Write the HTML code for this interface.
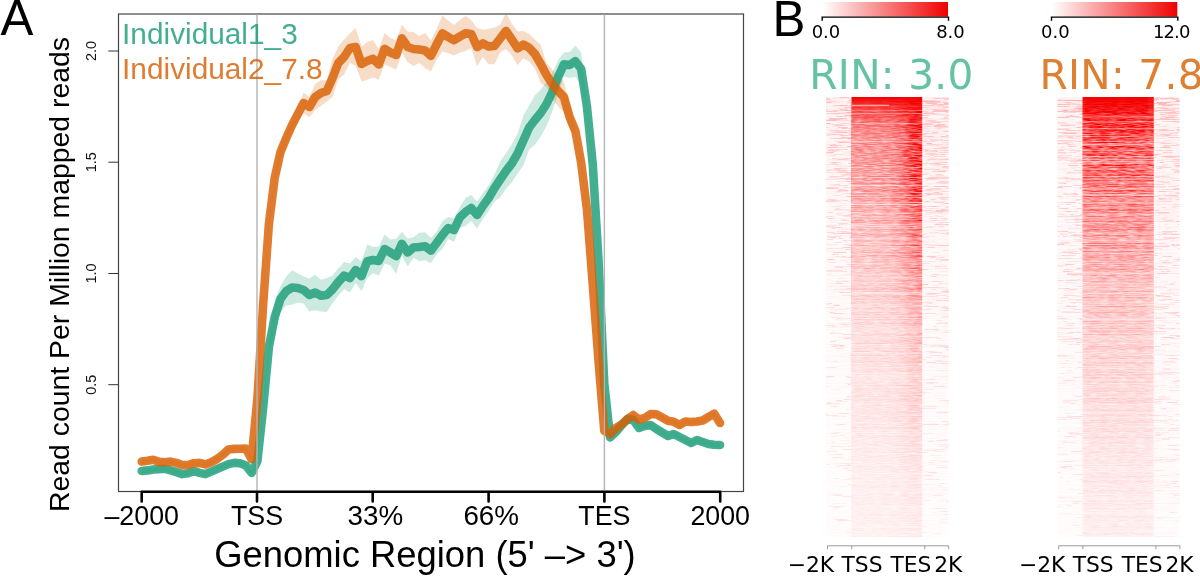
<!DOCTYPE html>
<html lang="en"><head><meta charset="utf-8"><title>RNA degradation coverage</title>
<style>html,body{margin:0;padding:0;background:#fff}body{width:1200px;height:576px;overflow:hidden}svg{display:block}</style></head>
<body>
<svg width="1200" height="576" viewBox="0 0 1200 576">
<defs><linearGradient id="cb" x1="0" x2="1" y1="0" y2="0"><stop offset="0" stop-color="#fff"/><stop offset="1" stop-color="#f00000"/></linearGradient><filter id="soft" x="-2%" y="-1%" width="104%" height="102%"><feGaussianBlur stdDeviation="0.7 0.3"/></filter></defs>
<rect width="1200" height="576" fill="#fff"/>
<text x="0.6" y="35" style="font-family:'Liberation Sans',sans-serif;font-size:49.3px" fill="#000">A</text>
<text x="772.6" y="35.6" style="font-family:'Liberation Sans',sans-serif;font-size:49.3px" fill="#000">B</text>
<rect x="118.5" y="14" width="625" height="477.5" fill="none" stroke="#444" stroke-width="1.2"/>
<polygon points="141.7,468.5 147.5,467.9 153.3,467.0 159.0,466.6 164.8,466.2 170.6,467.9 176.4,469.8 182.2,471.6 188.0,470.8 193.7,468.5 199.5,470.4 205.3,471.6 211.1,469.1 216.9,466.6 222.7,464.1 228.4,461.6 234.2,460.4 240.0,460.8 245.8,462.9 251.6,470.4 257.4,455.1 263.1,403.2 268.9,341.9 274.7,300.3 280.5,286.0 286.3,276.4 292.1,270.2 297.8,273.5 303.6,276.5 309.4,278.4 315.2,274.8 321.0,279.8 326.8,278.1 332.5,275.5 338.3,268.2 344.1,262.0 349.9,263.5 355.7,257.0 361.5,261.6 367.2,244.5 373.0,246.7 378.8,246.5 384.6,234.6 390.4,239.5 396.2,238.7 401.9,231.6 407.7,238.5 413.5,237.3 419.3,232.8 425.1,232.3 430.9,237.9 436.6,231.5 442.4,221.3 448.2,217.0 454.0,218.3 459.8,207.1 465.5,197.9 471.3,194.9 477.1,201.5 482.9,193.1 488.7,185.2 494.5,174.5 500.2,161.6 506.0,153.3 511.8,144.6 517.6,133.4 523.4,115.5 529.2,105.4 534.9,95.3 540.7,89.6 546.5,81.7 552.3,72.8 558.1,60.3 563.9,52.4 569.6,51.9 575.4,45.6 581.2,52.8 587.0,103.9 592.8,162.1 598.6,259.4 604.3,380.9 610.1,435.0 615.9,429.5 621.7,422.5 627.5,416.5 633.3,417.5 639.0,425.5 644.8,423.5 650.6,422.5 656.4,426.5 662.2,430.0 668.0,433.5 673.7,431.5 679.5,434.5 685.3,437.5 691.1,440.5 696.9,437.5 702.7,439.5 708.4,441.5 714.2,442.2 720.0,442.5 720.0,447.5 714.2,447.2 708.4,446.5 702.7,444.5 696.9,442.5 691.1,445.5 685.3,442.5 679.5,439.5 673.7,436.5 668.0,438.5 662.2,435.0 656.4,431.5 650.6,427.5 644.8,428.5 639.0,430.5 633.3,422.5 627.5,421.5 621.7,427.5 615.9,434.5 610.1,440.0 604.3,387.1 598.6,264.6 592.8,167.9 587.0,110.1 581.2,85.2 575.4,76.9 569.6,78.1 563.9,76.4 558.1,93.7 552.3,111.2 546.5,126.3 540.7,136.4 534.9,144.7 529.2,149.6 523.4,165.5 517.6,173.6 511.8,182.4 506.0,188.7 500.2,197.4 494.5,201.5 488.7,210.8 482.9,218.9 477.1,228.5 471.3,221.1 465.5,226.1 459.8,227.9 454.0,241.7 448.2,239.0 442.4,248.7 436.6,254.5 430.9,263.3 425.1,260.2 419.3,261.2 413.5,257.7 407.7,266.5 401.9,255.9 396.2,273.8 390.4,265.5 384.6,263.4 378.8,275.5 373.0,273.3 367.2,278.0 361.5,290.9 355.7,283.0 349.9,292.5 344.1,289.2 338.3,295.8 332.5,303.3 326.8,311.9 321.0,311.4 315.2,310.2 309.4,311.6 303.6,303.5 297.8,302.5 292.1,304.8 286.3,305.6 280.5,312.0 274.7,333.7 268.9,352.1 263.1,412.8 257.4,466.9 251.6,475.4 245.8,467.9 240.0,465.8 234.2,465.4 228.4,466.6 222.7,469.1 216.9,471.6 211.1,474.1 205.3,476.6 199.5,475.4 193.7,473.5 188.0,475.8 182.2,476.6 176.4,474.8 170.6,472.9 164.8,471.2 159.0,471.6 153.3,472.0 147.5,472.9 141.7,473.5" fill="#1B9E77" fill-opacity="0.22"/>
<polygon points="141.7,459.1 147.5,458.2 153.3,457.2 159.0,459.4 164.8,459.8 170.6,459.1 176.4,460.4 182.2,462.5 188.0,462.5 193.7,460.8 199.5,460.4 205.3,461.9 211.1,459.8 216.9,456.6 222.7,452.2 228.4,447.0 234.2,446.4 240.0,446.2 245.8,446.0 251.6,456.6 257.4,394.5 263.1,301.4 268.9,219.5 274.7,174.4 280.5,144.5 286.3,131.7 292.1,119.0 297.8,105.9 303.6,92.8 309.4,96.8 315.2,83.9 321.0,80.3 326.8,80.5 332.5,59.0 338.3,46.4 344.1,39.6 349.9,33.3 355.7,28.1 361.5,46.5 367.2,42.0 373.0,40.1 378.8,49.1 384.6,33.1 390.4,38.0 396.2,40.6 401.9,24.4 407.7,31.7 413.5,32.0 419.3,35.9 425.1,33.1 430.9,40.4 436.6,29.2 442.4,15.2 448.2,20.7 454.0,24.9 459.8,20.2 465.5,15.9 471.3,20.1 477.1,28.0 482.9,29.7 488.7,28.7 494.5,27.6 500.2,24.8 506.0,12.9 511.8,23.8 517.6,31.6 523.4,30.9 529.2,33.9 534.9,39.4 540.7,45.1 546.5,63.1 552.3,69.5 558.1,75.7 563.9,81.7 569.6,104.4 575.4,128.1 581.2,159.9 587.0,206.6 592.8,282.3 598.6,358.7 604.3,427.6 610.1,431.5 615.9,425.5 621.7,422.0 627.5,416.5 633.3,412.5 639.0,417.0 644.8,415.5 650.6,411.5 656.4,411.8 662.2,415.0 668.0,418.3 673.7,419.2 679.5,422.5 685.3,419.0 691.1,419.5 696.9,419.0 702.7,418.0 708.4,414.5 714.2,411.2 720.0,420.5 720.0,425.5 714.2,416.2 708.4,419.5 702.7,423.0 696.9,424.0 691.1,424.5 685.3,424.0 679.5,427.5 673.7,424.2 668.0,423.3 662.2,420.0 656.4,416.8 650.6,416.5 644.8,420.5 639.0,422.0 633.3,417.5 627.5,421.5 621.7,427.0 615.9,430.5 610.1,436.5 604.3,434.4 598.6,365.3 592.8,287.7 587.0,213.4 581.2,166.1 575.4,133.9 569.6,129.6 563.9,112.3 558.1,106.3 552.3,98.5 546.5,86.9 540.7,82.9 534.9,68.6 529.2,61.6 523.4,58.3 517.6,65.2 511.8,55.2 506.0,48.9 500.2,52.2 494.5,64.2 488.7,64.3 482.9,57.1 477.1,66.2 471.3,47.9 465.5,50.9 459.8,52.8 454.0,55.6 448.2,53.3 442.4,51.6 436.6,59.8 430.9,71.4 425.1,67.9 419.3,63.1 413.5,66.0 407.7,62.3 401.9,52.4 396.2,69.4 390.4,67.0 384.6,64.4 378.8,79.7 373.0,77.4 367.2,80.0 361.5,81.5 355.7,65.9 349.9,62.7 344.1,74.4 338.3,79.6 332.5,97.0 326.8,101.5 321.0,105.7 315.2,110.1 309.4,117.2 303.6,113.2 297.8,122.1 292.1,131.0 286.3,144.3 280.5,159.5 274.7,181.6 268.9,228.5 263.1,308.6 257.4,403.5 251.6,461.6 245.8,451.0 240.0,451.2 234.2,451.4 228.4,452.0 222.7,457.2 216.9,461.6 211.1,464.8 205.3,466.9 199.5,465.4 193.7,465.8 188.0,467.5 182.2,467.5 176.4,465.4 170.6,464.1 164.8,464.8 159.0,464.4 153.3,462.2 147.5,463.2 141.7,464.1" fill="#D95F02" fill-opacity="0.22"/>
<polyline points="141.7,471.0 147.5,470.4 153.3,469.5 159.0,469.1 164.8,468.8 170.6,470.4 176.4,472.2 182.2,474.1 188.0,473.2 193.7,471.0 199.5,472.9 205.3,474.1 211.1,471.6 216.9,469.1 222.7,466.6 228.4,464.1 234.2,462.9 240.0,463.2 245.8,465.4 251.6,472.9 257.4,461.0 263.1,408.0 268.9,347.0 274.7,317.0 280.5,299.0 286.3,291.0 292.1,287.5 297.8,288.0 303.6,290.0 309.4,295.0 315.2,292.5 321.0,295.6 326.8,295.0 332.5,289.4 338.3,282.0 344.1,275.6 349.9,278.0 355.7,270.0 361.5,276.2 367.2,261.2 373.0,260.0 378.8,261.0 384.6,249.0 390.4,252.5 396.2,256.2 401.9,243.8 407.7,252.5 413.5,247.5 419.3,247.0 425.1,246.2 430.9,250.6 436.6,243.0 442.4,235.0 448.2,228.0 454.0,230.0 459.8,217.5 465.5,212.0 471.3,208.0 477.1,215.0 482.9,206.0 488.7,198.0 494.5,188.0 500.2,179.5 506.0,171.0 511.8,163.5 517.6,153.5 523.4,140.5 529.2,127.5 534.9,120.0 540.7,113.0 546.5,104.0 552.3,92.0 558.1,77.0 563.9,64.4 569.6,65.0 575.4,61.2 581.2,69.0 587.0,107.0 592.8,165.0 598.6,262.0 604.3,384.0 610.1,437.5 615.9,432.0 621.7,425.0 627.5,419.0 633.3,420.0 639.0,428.0 644.8,426.0 650.6,425.0 656.4,429.0 662.2,432.5 668.0,436.0 673.7,434.0 679.5,437.0 685.3,440.0 691.1,443.0 696.9,440.0 702.7,442.0 708.4,444.0 714.2,444.7 720.0,445.0" fill="none" stroke="#1B9E77" stroke-opacity="0.82" stroke-width="8.6" stroke-linejoin="round" stroke-linecap="round"/>
<polyline points="141.7,461.6 147.5,460.8 153.3,459.8 159.0,461.9 164.8,462.2 170.6,461.6 176.4,462.9 182.2,465.0 188.0,465.0 193.7,463.2 199.5,462.9 205.3,464.4 211.1,462.2 216.9,459.1 222.7,454.8 228.4,449.5 234.2,448.9 240.0,448.8 245.8,448.5 251.6,459.1 257.4,399.0 263.1,305.0 268.9,224.0 274.7,178.0 280.5,152.0 286.3,138.0 292.1,125.0 297.8,114.0 303.6,103.0 309.4,107.0 315.2,97.0 321.0,93.0 326.8,91.0 332.5,78.0 338.3,63.0 344.1,57.0 349.9,48.0 355.7,47.0 361.5,64.0 367.2,61.0 373.0,58.8 378.8,64.4 384.6,48.8 390.4,52.5 396.2,55.0 401.9,38.4 407.7,47.0 413.5,49.0 419.3,49.5 425.1,50.5 430.9,55.9 436.6,44.5 442.4,33.4 448.2,37.0 454.0,40.2 459.8,36.5 465.5,33.4 471.3,34.0 477.1,47.1 482.9,43.4 488.7,46.5 494.5,45.9 500.2,38.5 506.0,30.9 511.8,39.5 517.6,48.4 523.4,44.6 529.2,47.8 534.9,54.0 540.7,64.0 546.5,75.0 552.3,84.0 558.1,91.0 563.9,97.0 569.6,117.0 575.4,131.0 581.2,163.0 587.0,210.0 592.8,285.0 598.6,362.0 604.3,431.0 610.1,434.0 615.9,428.0 621.7,424.5 627.5,419.0 633.3,415.0 639.0,419.5 644.8,418.0 650.6,414.0 656.4,414.3 662.2,417.5 668.0,420.8 673.7,421.7 679.5,425.0 685.3,421.5 691.1,422.0 696.9,421.5 702.7,420.5 708.4,417.0 714.2,413.8 720.0,423.0" fill="none" stroke="#D95F02" stroke-opacity="0.82" stroke-width="8.6" stroke-linejoin="round" stroke-linecap="round"/>
<path d="M257 14.5V491M604.4 14.5V491" stroke="#b4b4b4" stroke-width="1.4" fill="none"/>
<text x="122.1" y="43.5" style="font-family:'Liberation Sans',sans-serif;font-size:29.8px" fill="#1B9E77" fill-opacity="0.82">Individual1_3</text>
<text x="122.1" y="78.6" style="font-family:'Liberation Sans',sans-serif;font-size:29.8px" fill="#D95F02" fill-opacity="0.82">Individual2_7.8</text>
<line x1="108.3" x2="118.5" y1="51.0" y2="51.0" stroke="#333" stroke-width="1"/>
<text transform="translate(96,51.0) rotate(-90)" text-anchor="middle" style="font-family:'Liberation Sans',sans-serif;font-size:14.5px" fill="#111">2.0</text>
<line x1="108.3" x2="118.5" y1="162.2" y2="162.2" stroke="#333" stroke-width="1"/>
<text transform="translate(96,162.2) rotate(-90)" text-anchor="middle" style="font-family:'Liberation Sans',sans-serif;font-size:14.5px" fill="#111">1.5</text>
<line x1="108.3" x2="118.5" y1="273.5" y2="273.5" stroke="#333" stroke-width="1"/>
<text transform="translate(96,273.5) rotate(-90)" text-anchor="middle" style="font-family:'Liberation Sans',sans-serif;font-size:14.5px" fill="#111">1.0</text>
<line x1="108.3" x2="118.5" y1="384.7" y2="384.7" stroke="#333" stroke-width="1"/>
<text transform="translate(96,384.7) rotate(-90)" text-anchor="middle" style="font-family:'Liberation Sans',sans-serif;font-size:14.5px" fill="#111">0.5</text>
<text transform="translate(68.7,274.5) rotate(-90)" text-anchor="middle" style="font-family:'Liberation Sans',sans-serif;font-size:28.4px" fill="#000">Read count Per Million mapped reads</text>
<path d="M141.7 501.5V491.7H720.2V501.5M257 491.7V501.5M372.7 491.7V501.5M488.6 491.7V501.5M604.4 491.7V501.5" fill="none" stroke="#000" stroke-width="2.6" stroke-linecap="round" stroke-linejoin="round"/>
<text x="141.7" y="524.6" text-anchor="middle" style="font-family:'Liberation Sans',sans-serif;font-size:26.8px" fill="#000">–2000</text>
<text x="257.0" y="524.6" text-anchor="middle" style="font-family:'Liberation Sans',sans-serif;font-size:26.8px" fill="#000">TSS</text>
<text x="375.3" y="524.6" text-anchor="middle" style="font-family:'Liberation Sans',sans-serif;font-size:27.8px" fill="#000">33%</text>
<text x="491.2" y="524.6" text-anchor="middle" style="font-family:'Liberation Sans',sans-serif;font-size:27.8px" fill="#000">66%</text>
<text x="604.4" y="524.6" text-anchor="middle" style="font-family:'Liberation Sans',sans-serif;font-size:26.8px" fill="#000">TES</text>
<text x="720.2" y="524.6" text-anchor="middle" style="font-family:'Liberation Sans',sans-serif;font-size:26.8px" fill="#000">2000</text>
<text x="425" y="567" text-anchor="middle" style="font-family:'Liberation Sans',sans-serif;font-size:36.4px" fill="#000">Genomic Region (5' –&gt; 3')</text>
<rect x="822.4" y="2" width="125.6" height="14.6" fill="url(#cb)"/>
<path d="M822.2 20.8V17.1H948.5V20.8" fill="none" stroke="#000" stroke-width="1.4"/>
<text x="826.0" y="37.8" text-anchor="middle" style="font-family:'DejaVu Sans','Liberation Sans',sans-serif;font-size:18px" fill="#000">0.0</text>
<text x="950.5" y="37.8" text-anchor="middle" style="font-family:'DejaVu Sans','Liberation Sans',sans-serif;font-size:18px" fill="#000">8.0</text>
<text x="809.3" y="89" style="font-family:'DejaVu Sans','Liberation Sans',sans-serif;font-size:40.6px;letter-spacing:0.35px" fill="#66C2A5">RIN: 3.0</text>
<rect x="1051.7" y="2" width="125.6" height="14.6" fill="url(#cb)"/>
<path d="M1051.5 20.8V17.1H1177.8V20.8" fill="none" stroke="#000" stroke-width="1.4"/>
<text x="1055.3" y="37.8" text-anchor="middle" style="font-family:'DejaVu Sans','Liberation Sans',sans-serif;font-size:18px" fill="#000">0.0</text>
<text x="1171.2" y="37.8" text-anchor="middle" style="font-family:'DejaVu Sans','Liberation Sans',sans-serif;font-size:18px;letter-spacing:-0.9px" fill="#000">12.0</text>
<text x="1039.4" y="89" style="font-family:'DejaVu Sans','Liberation Sans',sans-serif;font-size:40.6px;letter-spacing:0.35px" fill="#DD8033">RIN: 7.8</text>
<defs><linearGradient id="hp1" x1="0" x2="1" y1="0" y2="0"><stop offset="0.00" stop-color="#fff" stop-opacity="1.00"/><stop offset="0.30" stop-color="#fff" stop-opacity="0.98"/><stop offset="0.55" stop-color="#fff" stop-opacity="0.90"/><stop offset="0.72" stop-color="#fff" stop-opacity="0.62"/><stop offset="0.84" stop-color="#fff" stop-opacity="0.20"/><stop offset="0.92" stop-color="#fff" stop-opacity="0.00"/><stop offset="1.00" stop-color="#fff" stop-opacity="0.00"/></linearGradient><linearGradient id="hp1v" x1="0" x2="0" y1="0" y2="1"><stop offset="0.000" stop-color="#fff" stop-opacity="0.000"/><stop offset="0.030" stop-color="#fff" stop-opacity="0.220"/><stop offset="0.075" stop-color="#fff" stop-opacity="0.448"/><stop offset="0.143" stop-color="#fff" stop-opacity="0.500"/><stop offset="0.234" stop-color="#fff" stop-opacity="0.516"/><stop offset="0.290" stop-color="#fff" stop-opacity="0.528"/><stop offset="0.380" stop-color="#fff" stop-opacity="0.536"/><stop offset="0.530" stop-color="#fff" stop-opacity="0.479"/><stop offset="0.680" stop-color="#fff" stop-opacity="0.441"/><stop offset="0.860" stop-color="#fff" stop-opacity="0.337"/><stop offset="1.000" stop-color="#fff" stop-opacity="0.306"/></linearGradient><mask id="hp1m" maskUnits="userSpaceOnUse" x="851.5" y="97.0" width="70.7" height="440"><rect x="851.5" y="97.0" width="70.7" height="440" fill="url(#hp1v)"/></mask><filter id="hp1g" x="0" y="0" width="1" height="1" color-interpolation-filters="sRGB"><feTurbulence type="fractalNoise" baseFrequency="0.11 0.9" numOctaves="2" seed="11" result="n"/><feColorMatrix in="n" type="matrix" values="0 0 0 0 1 0 0 0 0 1 0 0 0 0 1 1.25 0 0 0 -0.40"/><feComposite operator="in" in2="SourceGraphic"/></filter><linearGradient id="hp1gv" x1="0" x2="0" y1="0" y2="1"><stop offset="0.000" stop-color="#fff" stop-opacity="0.000"/><stop offset="0.020" stop-color="#fff" stop-opacity="0.250"/><stop offset="0.050" stop-color="#fff" stop-opacity="0.700"/><stop offset="0.100" stop-color="#fff" stop-opacity="1.000"/><stop offset="1.000" stop-color="#fff" stop-opacity="1.000"/></linearGradient><mask id="hp1gm" maskUnits="userSpaceOnUse" x="826.0" y="97.0" width="122.5" height="440"><rect x="826.0" y="97.0" width="122.5" height="440" fill="url(#hp1gv)"/></mask></defs><g fill="none" stroke-width="1.1" filter="url(#soft)"><path stroke="#fffbfb" d="M922.2 215.5h26.3M826.0 240.5h25.5M826.0 249.5h25.5M826.0 252.5h25.5M922.2 252.5h26.3M826.0 254.5h25.5M922.2 257.5h26.3M826.0 263.5h25.5M826.0 264.5h25.5M826.0 266.5h25.5M922.2 273.5h26.3M826.0 277.5h25.5M826.0 279.5h25.5M826.0 281.5h25.5M826.0 292.5h25.5M826.0 294.5h25.5M826.0 300.5h25.5M826.0 302.5h25.5M826.0 310.5h25.5M826.0 312.5h25.5M922.2 312.5h26.3M922.2 314.5h26.3M826.0 315.5h25.5M826.0 317.5h25.5M922.2 317.5h26.3M826.0 318.5h25.5M826.0 319.5h25.5M826.0 321.5h25.5M922.2 321.5h26.3M826.0 322.5h25.5M922.2 322.5h26.3M826.0 324.5h25.5M922.2 324.5h26.3M826.0 325.5h25.5M922.2 325.5h26.3M922.2 327.5h26.3M826.0 328.5h25.5M922.2 329.5h26.3M826.0 330.5h25.5M826.0 331.5h25.5M826.0 333.5h25.5M826.0 334.5h25.5M922.2 334.5h26.3M826.0 335.5h25.5M826.0 337.5h25.5M922.2 337.5h26.3M826.0 338.5h25.5M826.0 339.5h25.5M922.2 339.5h26.3M826.0 340.5h25.5M826.0 341.5h25.5M922.2 341.5h26.3M826.0 343.5h25.5M826.0 345.5h25.5M922.2 345.5h26.3M826.0 346.5h25.5M826.0 348.5h25.5M922.2 348.5h26.3M826.0 349.5h25.5M922.2 349.5h26.3M922.2 350.5h26.3M826.0 352.5h25.5M826.0 353.5h25.5M826.0 354.5h25.5M922.2 355.5h26.3M826.0 358.5h25.5M922.2 358.5h26.3M826.0 362.5h25.5M922.2 362.5h26.3M826.0 363.5h25.5M826.0 364.5h25.5M826.0 366.5h25.5M826.0 367.5h25.5M922.2 368.5h26.3M826.0 369.5h25.5M826.0 371.5h25.5M826.0 372.5h25.5M922.2 372.5h26.3M826.0 373.5h25.5M922.2 374.5h26.3M922.2 376.5h26.3M826.0 377.5h25.5M922.2 377.5h26.3M826.0 378.5h25.5M826.0 379.5h25.5M826.0 381.5h25.5M922.2 381.5h26.3M826.0 384.5h25.5M826.0 386.5h25.5M922.2 386.5h26.3M826.0 387.5h25.5M826.0 389.5h25.5M922.2 389.5h26.3M922.2 390.5h26.3M826.0 391.5h25.5M922.2 391.5h26.3M826.0 392.5h25.5M826.0 394.5h25.5M922.2 394.5h26.3M826.0 395.5h25.5M922.2 395.5h26.3M826.0 396.5h25.5M826.0 397.5h25.5M922.2 397.5h26.3M826.0 399.5h25.5M922.2 399.5h26.3M826.0 400.5h25.5M826.0 401.5h25.5M826.0 402.5h25.5M826.0 403.5h25.5M922.2 403.5h26.3M826.0 404.5h25.5M922.2 404.5h26.3M826.0 405.5h25.5M826.0 406.5h25.5M826.0 407.5h25.5M826.0 408.5h25.5M826.0 409.5h25.5M922.2 409.5h26.3M826.0 410.5h25.5M922.2 410.5h26.3M826.0 411.5h25.5M826.0 412.5h25.5M826.0 414.5h25.5M922.2 414.5h26.3M826.0 416.5h25.5M826.0 417.5h25.5M922.2 417.5h26.3M826.0 418.5h25.5M826.0 419.5h25.5M922.2 419.5h26.3M826.0 420.5h25.5M922.2 420.5h26.3M826.0 421.5h25.5M922.2 422.5h26.3M826.0 423.5h25.5M922.2 423.5h26.3M826.0 424.5h25.5M922.2 425.5h26.3M826.0 426.5h25.5M826.0 427.5h25.5M922.2 427.5h26.3M826.0 428.5h25.5M826.0 429.5h25.5M826.0 430.5h25.5M922.2 430.5h26.3M826.0 431.5h25.5M922.2 431.5h26.3M922.2 432.5h26.3M826.0 433.5h25.5M922.2 433.5h26.3M826.0 435.5h25.5M922.2 435.5h26.3M826.0 436.5h25.5M922.2 436.5h26.3M826.0 437.5h25.5M922.2 437.5h26.3M826.0 438.5h25.5M922.2 438.5h26.3M826.0 439.5h25.5M922.2 439.5h26.3M826.0 440.5h25.5M826.0 441.5h25.5M826.0 442.5h25.5M922.2 442.5h26.3M922.2 443.5h26.3M826.0 444.5h25.5M922.2 444.5h26.3M826.0 445.5h25.5M922.2 445.5h26.3M826.0 446.5h25.5M922.2 446.5h26.3M826.0 447.5h25.5M922.2 447.5h26.3M826.0 448.5h25.5M922.2 448.5h26.3M826.0 449.5h25.5M826.0 450.5h25.5M922.2 450.5h26.3M826.0 451.5h25.5M922.2 451.5h26.3M826.0 452.5h25.5M922.2 452.5h26.3M826.0 453.5h25.5M922.2 453.5h26.3M826.0 454.5h25.5M826.0 455.5h25.5M922.2 455.5h26.3M826.0 456.5h25.5M922.2 456.5h26.3M826.0 457.5h25.5M922.2 457.5h26.3M826.0 458.5h25.5M922.2 458.5h26.3M826.0 459.5h25.5M922.2 459.5h26.3M826.0 460.5h25.5M922.2 460.5h26.3M826.0 461.5h25.5M922.2 461.5h26.3M826.0 462.5h25.5M922.2 462.5h26.3M826.0 464.5h25.5M922.2 464.5h26.3M826.0 465.5h25.5M826.0 466.5h25.5M922.2 466.5h26.3M922.2 467.5h26.3M826.0 468.5h25.5M922.2 468.5h26.3M826.0 469.5h25.5M922.2 469.5h26.3M826.0 470.5h25.5M922.2 470.5h26.3M826.0 471.5h25.5M922.2 471.5h26.3M826.0 472.5h25.5M922.2 472.5h26.3M826.0 473.5h25.5M826.0 474.5h25.5M826.0 475.5h25.5M922.2 475.5h26.3M826.0 476.5h25.5M826.0 477.5h25.5M922.2 477.5h26.3M826.0 478.5h25.5M922.2 478.5h26.3M826.0 479.5h25.5M826.0 480.5h25.5M922.2 480.5h26.3M826.0 481.5h25.5M922.2 481.5h26.3M826.0 482.5h25.5M922.2 482.5h26.3M826.0 483.5h25.5M922.2 483.5h26.3M826.0 484.5h25.5M922.2 484.5h26.3M826.0 485.5h25.5M922.2 485.5h26.3M826.0 486.5h25.5M922.2 486.5h26.3M826.0 487.5h25.5M826.0 488.5h25.5M826.0 489.5h25.5M826.0 490.5h25.5M826.0 491.5h25.5M922.2 491.5h26.3M826.0 492.5h25.5M922.2 492.5h26.3M826.0 493.5h25.5M826.0 494.5h25.5M826.0 495.5h25.5M922.2 495.5h26.3M826.0 496.5h25.5M922.2 496.5h26.3M826.0 497.5h25.5M922.2 497.5h26.3M826.0 498.5h25.5M922.2 498.5h26.3M826.0 499.5h25.5M922.2 499.5h26.3M826.0 500.5h25.5M922.2 500.5h26.3M826.0 501.5h25.5M922.2 501.5h26.3M826.0 502.5h25.5M922.2 502.5h26.3M826.0 503.5h25.5M922.2 503.5h26.3M826.0 504.5h25.5M922.2 504.5h26.3M826.0 505.5h25.5M922.2 505.5h26.3M826.0 506.5h25.5M922.2 506.5h26.3M826.0 507.5h25.5M922.2 507.5h26.3M826.0 508.5h25.5M922.2 508.5h26.3M826.0 509.5h25.5M922.2 509.5h26.3M826.0 510.5h25.5M922.2 510.5h26.3M826.0 511.5h25.5M922.2 511.5h26.3M826.0 512.5h25.5M922.2 512.5h26.3M826.0 513.5h25.5M922.2 513.5h26.3M826.0 514.5h25.5M922.2 514.5h26.3M826.0 515.5h25.5M922.2 515.5h26.3M826.0 516.5h25.5M922.2 516.5h26.3M826.0 517.5h25.5M922.2 517.5h26.3M826.0 518.5h25.5M922.2 518.5h26.3M826.0 519.5h25.5M922.2 519.5h26.3M826.0 520.5h25.5M826.0 521.5h25.5M922.2 521.5h26.3M826.0 522.5h25.5M922.2 522.5h26.3M826.0 523.5h25.5M922.2 523.5h26.3M826.0 524.5h25.5M826.0 525.5h25.5M922.2 525.5h26.3M826.0 526.5h25.5M922.2 526.5h26.3M826.0 527.5h25.5M922.2 527.5h26.3M826.0 528.5h25.5M922.2 528.5h26.3M826.0 529.5h25.5M922.2 529.5h26.3M826.0 530.5h25.5M922.2 530.5h26.3M826.0 531.5h25.5M922.2 531.5h26.3M826.0 532.5h25.5M922.2 532.5h26.3M826.0 533.5h25.5M922.2 533.5h26.3M826.0 534.5h25.5M922.2 534.5h26.3M826.0 535.5h25.5M922.2 535.5h26.3M826.0 536.5h25.5M922.2 536.5h26.3"/><path stroke="#fff7f7" d="M922.2 116.5h26.3M826.0 147.5h25.5M826.0 158.5h25.5M826.0 162.5h25.5M826.0 163.5h25.5M826.0 168.5h25.5M826.0 169.5h25.5M826.0 171.5h25.5M826.0 172.5h25.5M826.0 173.5h25.5M922.2 173.5h26.3M922.2 174.5h26.3M826.0 175.5h25.5M826.0 180.5h25.5M826.0 182.5h25.5M922.2 183.5h26.3M826.0 184.5h25.5M922.2 185.5h26.3M826.0 186.5h25.5M826.0 187.5h25.5M922.2 189.5h26.3M826.0 190.5h25.5M826.0 192.5h25.5M826.0 195.5h25.5M826.0 196.5h25.5M826.0 198.5h25.5M826.0 200.5h25.5M826.0 201.5h25.5M922.2 201.5h26.3M826.0 202.5h25.5M826.0 204.5h25.5M922.2 204.5h26.3M826.0 205.5h25.5M826.0 206.5h25.5M922.2 206.5h26.3M826.0 207.5h25.5M826.0 208.5h25.5M922.2 208.5h26.3M826.0 209.5h25.5M922.2 209.5h26.3M826.0 210.5h25.5M922.2 210.5h26.3M826.0 211.5h25.5M826.0 212.5h25.5M826.0 213.5h25.5M826.0 215.5h25.5M826.0 216.5h25.5M922.2 216.5h26.3M826.0 217.5h25.5M922.2 217.5h26.3M922.2 218.5h26.3M826.0 219.5h25.5M922.2 219.5h26.3M922.2 220.5h26.3M826.0 221.5h25.5M922.2 221.5h26.3M826.0 223.5h25.5M922.2 223.5h26.3M826.0 224.5h25.5M922.2 224.5h26.3M826.0 226.5h25.5M922.2 226.5h26.3M826.0 227.5h25.5M826.0 228.5h25.5M922.2 228.5h26.3M826.0 229.5h25.5M922.2 229.5h26.3M826.0 230.5h25.5M922.2 230.5h26.3M826.0 233.5h25.5M826.0 234.5h25.5M922.2 234.5h26.3M922.2 236.5h26.3M826.0 237.5h25.5M922.2 237.5h26.3M922.2 238.5h26.3M826.0 239.5h25.5M826.0 241.5h25.5M826.0 242.5h25.5M826.0 243.5h25.5M826.0 244.5h25.5M922.2 244.5h26.3M826.0 245.5h25.5M922.2 245.5h26.3M826.0 246.5h25.5M826.0 247.5h25.5M826.0 248.5h25.5M922.2 248.5h26.3M922.2 249.5h26.3M826.0 250.5h25.5M922.2 250.5h26.3M826.0 251.5h25.5M922.2 251.5h26.3M826.0 253.5h25.5M922.2 253.5h26.3M922.2 254.5h26.3M826.0 255.5h25.5M826.0 256.5h25.5M826.0 258.5h25.5M922.2 258.5h26.3M826.0 259.5h25.5M922.2 259.5h26.3M826.0 260.5h25.5M922.2 260.5h26.3M826.0 261.5h25.5M922.2 261.5h26.3M826.0 262.5h25.5M922.2 262.5h26.3M922.2 263.5h26.3M826.0 265.5h25.5M922.2 266.5h26.3M826.0 267.5h25.5M922.2 267.5h26.3M941.3 267.5h7.2M826.0 269.5h25.5M922.2 269.5h26.3M826.0 270.5h25.5M922.2 270.5h26.3M826.0 271.5h25.5M922.2 271.5h26.3M826.0 272.5h25.5M922.2 272.5h26.3M826.0 273.5h25.5M826.0 274.5h25.5M826.0 276.5h25.5M922.2 276.5h26.3M922.2 277.5h26.3M826.0 278.5h25.5M922.2 278.5h26.3M922.2 279.5h26.3M922.2 280.5h26.3M922.2 282.5h26.3M826.0 283.5h25.5M922.2 283.5h26.3M826.0 284.5h25.5M922.2 284.5h26.3M826.0 285.5h25.5M922.2 285.5h26.3M922.2 286.5h26.3M826.0 287.5h25.5M826.0 288.5h25.5M826.0 289.5h25.5M922.2 289.5h26.3M922.2 289.5h9.0M826.0 290.5h25.5M922.2 290.5h26.3M826.0 291.5h25.5M922.2 291.5h26.3M832.2 292.5h10.8M922.2 292.5h26.3M826.0 293.5h25.5M922.2 293.5h26.3M826.0 295.5h25.5M826.0 296.5h25.5M922.2 296.5h26.3M826.0 297.5h25.5M922.2 297.5h26.3M826.0 298.5h25.5M826.0 299.5h25.5M922.2 299.5h26.3M826.0 301.5h25.5M922.2 302.5h26.3M826.0 303.5h25.5M826.0 304.5h25.5M922.2 304.5h26.3M826.0 305.5h25.5M922.2 305.5h26.3M826.0 306.5h25.5M922.2 306.5h26.3M924.2 306.5h15.2M826.0 307.5h25.5M922.2 307.5h26.3M826.0 308.5h25.5M922.2 308.5h26.3M826.0 309.5h25.5M922.2 310.5h26.3M826.0 311.5h25.5M922.2 311.5h26.3M826.0 313.5h25.5M827.7 313.5h5.3M826.0 314.5h25.5M922.2 315.5h26.3M826.0 316.5h25.5M922.2 316.5h26.3M922.2 318.5h26.3M922.2 319.5h26.3M826.0 320.5h25.5M922.2 320.5h26.3M922.2 323.5h26.3M922.2 326.5h26.3M922.2 328.5h26.3M826.0 329.5h25.5M922.2 330.5h26.3M849.7 331.5h1.8M826.0 332.5h25.5M826.6 332.5h2.8M922.2 332.5h26.3M922.2 333.5h26.3M922.2 335.5h26.3M826.0 336.5h25.5M922.2 336.5h26.3M922.2 338.5h26.3M922.2 340.5h26.3M826.0 342.5h25.5M922.2 342.5h26.3M922.2 343.5h26.3M826.0 344.5h25.5M922.2 344.5h26.3M922.2 346.5h26.3M826.0 347.5h25.5M832.2 347.5h9.5M922.2 347.5h26.3M926.2 347.5h13.2M826.0 350.5h25.5M826.0 351.5h25.5M922.2 351.5h26.3M922.2 352.5h26.3M922.2 353.5h26.3M922.2 354.5h26.3M826.0 355.5h25.5M826.0 356.5h25.5M922.2 356.5h26.3M826.0 357.5h25.5M922.2 357.5h26.3M826.0 359.5h25.5M922.2 359.5h26.3M826.0 360.5h25.5M922.2 360.5h26.3M826.0 361.5h25.5M922.2 361.5h26.3M922.2 363.5h26.3M922.2 364.5h26.3M933.4 364.5h8.3M826.0 365.5h25.5M922.2 365.5h26.3M922.2 366.5h26.3M922.2 367.5h26.3M826.0 368.5h25.5M922.2 369.5h26.3M826.0 370.5h25.5M922.2 370.5h26.3M922.2 371.5h26.3M922.2 373.5h26.3M826.0 374.5h25.5M843.0 374.5h5.3M826.0 375.5h25.5M922.2 375.5h26.3M826.0 376.5h25.5M922.2 378.5h26.3M922.2 379.5h26.3M826.0 380.5h25.5M922.2 380.5h26.3M826.0 382.5h25.5M922.2 382.5h26.3M826.0 383.5h25.5M922.2 384.5h26.3M927.4 384.5h7.1M826.0 385.5h25.5M922.2 385.5h26.3M922.2 387.5h26.3M826.0 388.5h25.5M922.2 388.5h26.3M826.0 390.5h25.5M922.2 392.5h26.3M826.0 393.5h25.5M922.2 393.5h26.3M922.2 396.5h26.3M826.0 398.5h25.5M922.2 398.5h26.3M922.2 400.5h26.3M922.2 401.5h26.3M922.2 402.5h26.3M922.2 405.5h26.3M922.2 406.5h26.3M922.2 407.5h26.3M922.2 408.5h26.3M922.2 409.5h13.0M922.2 411.5h26.3M922.2 412.5h26.3M826.0 413.5h25.5M922.2 413.5h26.3M826.0 415.5h25.5M922.2 415.5h26.3M922.2 416.5h26.3M922.2 418.5h26.3M922.2 421.5h26.3M826.0 422.5h25.5M828.4 424.5h11.1M922.2 424.5h26.3M826.0 425.5h25.5M922.2 426.5h26.3M922.2 428.5h26.3M843.0 429.5h6.0M922.2 429.5h26.3M826.0 432.5h25.5M826.0 434.5h25.5M922.2 434.5h26.3M922.2 440.5h26.3M922.2 441.5h26.3M932.9 444.5h5.3M922.2 444.5h6.4M943.5 445.5h5.0M942.6 448.5h5.9M922.2 449.5h26.3M846.9 452.5h3.0M922.2 454.5h26.3M832.4 459.5h4.2M826.0 463.5h25.5M922.2 463.5h26.3M922.2 465.5h26.3M840.7 466.5h10.8M826.0 467.5h25.5M928.1 471.5h7.4M938.3 472.5h3.9M922.2 473.5h26.3M922.2 474.5h26.3M922.2 476.5h26.3M922.2 479.5h26.3M922.2 483.5h3.2M943.6 483.5h4.9M922.2 487.5h26.3M922.2 488.5h26.3M922.2 489.5h26.3M922.2 490.5h26.3M922.2 493.5h26.3M922.2 494.5h26.3M934.3 499.5h12.8M935.8 501.5h7.1M827.3 514.5h6.4M848.2 517.5h3.3M922.2 520.5h26.3M833.3 522.5h9.6M922.2 524.5h26.3M836.5 527.5h3.1M827.4 532.5h13.3"/><path stroke="#fff3f3" d="M826.0 99.5h25.5M922.2 99.5h26.3M942.6 99.5h5.9M826.0 102.5h25.5M826.0 104.5h25.5M922.2 104.5h26.3M826.0 105.5h25.5M826.0 107.5h25.5M826.0 109.5h25.5M826.0 110.5h25.5M826.0 112.5h25.5M922.2 112.5h26.3M826.0 115.5h25.5M937.9 115.5h7.9M826.0 116.5h25.5M826.0 117.5h25.5M838.8 117.5h8.3M922.2 117.5h26.3M922.2 118.5h26.3M946.4 119.5h2.1M826.0 120.5h25.5M826.0 122.5h25.5M922.2 122.5h26.3M826.0 123.5h25.5M922.2 123.5h26.3M922.2 125.5h26.3M826.0 126.5h25.5M826.0 127.5h25.5M826.0 128.5h25.5M922.2 128.5h26.3M826.0 130.5h25.5M826.0 131.5h25.5M940.4 131.5h4.5M826.0 132.5h25.5M826.0 134.5h25.5M826.0 135.5h25.5M826.0 136.5h25.5M826.0 137.5h25.5M826.0 139.5h25.5M922.2 139.5h26.3M826.0 140.5h25.5M826.0 141.5h25.5M826.0 142.5h25.5M826.0 148.5h25.5M836.0 148.5h10.3M922.6 148.5h4.9M826.0 150.5h25.5M922.2 150.5h26.3M922.2 150.5h6.4M826.0 152.5h25.5M829.7 152.5h7.4M922.2 153.5h26.3M826.0 154.5h25.5M922.2 154.5h2.6M826.0 155.5h25.5M922.2 155.5h26.3M826.0 156.5h25.5M922.2 156.5h26.3M826.0 157.5h25.5M922.2 157.5h26.3M922.2 158.5h26.3M826.0 159.5h25.5M828.6 159.5h11.7M826.0 161.5h25.5M922.2 161.5h26.3M922.2 162.5h26.3M827.2 163.5h5.6M826.0 164.5h25.5M922.2 164.5h26.3M826.0 165.5h25.5M922.2 165.5h26.3M826.0 166.5h25.5M922.2 166.5h26.3M826.0 167.5h25.5M933.0 167.5h6.7M945.8 167.5h2.7M847.5 168.5h4.0M922.2 169.5h26.3M826.0 170.5h25.5M922.2 170.5h26.3M826.0 174.5h25.5M922.2 175.5h26.3M826.0 176.5h25.5M922.2 176.5h26.3M826.0 177.5h25.5M922.2 177.5h26.3M922.2 178.5h26.3M922.2 179.5h26.3M922.2 180.5h26.3M826.0 181.5h25.5M922.2 181.5h26.3M922.2 182.5h26.3M826.0 183.5h25.5M922.2 184.5h26.3M932.2 184.5h12.6M940.2 186.5h3.3M934.9 186.5h12.7M922.2 187.5h26.3M826.0 188.5h25.5M826.0 189.5h25.5M925.4 191.5h6.1M922.2 193.5h26.3M826.0 194.5h25.5M922.2 194.5h26.3M922.2 195.5h26.3M826.0 197.5h25.5M848.9 197.5h2.6M922.2 198.5h26.3M826.0 199.5h25.5M922.2 199.5h26.3M922.2 202.5h26.3M826.0 203.5h25.5M922.2 203.5h26.3M922.2 205.5h26.3M922.2 207.5h26.3M842.3 211.5h4.2M826.0 214.5h25.5M922.2 214.5h26.3M940.3 215.5h5.1M826.0 218.5h25.5M826.0 222.5h25.5M826.0 225.5h25.5M846.1 228.5h5.4M925.7 229.5h6.4M826.0 231.5h25.5M922.2 231.5h26.3M826.0 232.5h25.5M922.2 232.5h26.3M849.8 233.5h1.7M922.2 233.5h26.3M826.0 235.5h25.5M843.2 235.5h8.3M922.2 235.5h26.3M826.0 236.5h25.5M933.5 237.5h7.7M826.0 238.5h25.5M922.2 240.5h26.3M922.2 241.5h26.3M922.2 242.5h26.3M922.2 243.5h26.3M940.7 245.5h4.3M922.2 246.5h26.3M922.2 247.5h26.3M826.0 249.5h2.0M840.0 249.5h4.0M922.2 255.5h26.3M935.6 255.5h8.5M922.2 256.5h26.3M826.0 257.5h25.5M939.2 262.5h6.3M927.4 263.5h10.6M922.2 265.5h26.3M826.0 268.5h25.5M922.2 268.5h26.3M826.0 272.5h4.3M942.3 272.5h6.2M922.2 273.5h3.9M922.2 274.5h26.3M826.0 275.5h25.5M922.2 275.5h26.3M826.0 280.5h25.5M836.7 280.5h8.5M922.2 281.5h26.3M826.0 282.5h25.5M847.4 282.5h4.1M826.0 286.5h25.5M922.2 287.5h26.3M837.9 288.5h13.6M840.6 291.5h3.5M922.2 294.5h26.3M842.7 295.5h8.8M922.2 295.5h26.3M844.2 298.5h2.5M922.2 298.5h26.3M938.4 298.5h2.9M922.2 300.5h26.3M922.9 300.5h3.3M922.2 301.5h26.3M922.2 303.5h26.3M933.6 304.5h3.8M934.1 305.5h6.3M922.2 309.5h26.3M834.9 310.5h3.4M826.0 311.5h6.5M936.4 312.5h11.2M829.3 313.5h10.5M922.2 313.5h26.3M826.0 323.5h25.5M826.0 326.5h25.5M826.0 327.5h25.5M922.2 331.5h26.3M932.0 332.5h7.5M925.3 345.5h10.0M836.1 348.5h4.9M945.3 357.5h3.2M830.2 362.5h3.1M937.8 363.5h9.8M940.1 377.5h8.4M922.2 383.5h26.3M946.1 385.5h2.4M841.0 386.5h7.1M933.5 386.5h14.9M831.8 389.5h7.9M944.8 405.5h3.7M930.9 423.5h4.0M922.2 424.5h7.9M942.8 425.5h5.7M837.3 429.5h14.2M846.7 429.5h4.8M846.7 433.5h4.8M834.0 435.5h11.1M926.0 438.5h14.2M831.2 440.5h3.7M826.0 443.5h25.5M944.5 445.5h4.0M926.9 448.5h6.8M926.6 464.5h9.4M944.6 468.5h3.4M827.6 481.5h6.3M933.5 497.5h2.9M943.1 510.5h2.7M929.9 514.5h14.2"/><path stroke="#ffefef" d="M826.0 97.5h25.5M938.2 97.5h10.3M922.2 98.5h26.3M826.0 100.5h25.5M826.0 101.5h25.5M926.7 101.5h6.9M922.2 102.5h26.3M826.0 103.5h25.5M945.9 104.5h2.6M947.0 104.5h1.5M922.2 105.5h26.3M826.0 106.5h25.5M922.2 106.5h26.3M826.0 108.5h25.5M943.3 108.5h2.9M826.0 111.5h25.5M835.6 111.5h12.9M826.0 113.5h25.5M922.2 113.5h26.3M922.2 115.5h26.3M826.0 116.5h2.4M826.0 118.5h25.5M826.0 119.5h25.5M839.1 120.5h9.2M922.2 120.5h26.3M826.0 121.5h25.5M843.0 121.5h8.5M848.4 121.5h3.1M943.5 123.5h5.0M826.0 125.5h12.5M843.7 125.5h6.5M840.5 125.5h5.4M844.5 127.5h7.0M844.1 127.5h7.4M826.0 129.5h25.5M922.2 129.5h26.3M922.2 132.5h26.3M826.0 133.5h25.5M922.2 133.5h26.3M922.2 135.5h26.3M922.2 136.5h26.3M826.0 138.5h25.5M922.2 138.5h26.3M922.2 141.5h26.3M935.3 141.5h6.6M922.2 142.5h26.3M927.6 142.5h6.5M826.0 143.5h25.5M922.2 143.5h26.3M826.0 144.5h25.5M826.0 145.5h25.5M933.5 145.5h9.6M826.0 146.5h25.5M922.2 146.5h26.3M922.2 147.5h26.3M826.0 151.5h25.5M922.2 151.5h26.3M826.0 153.5h25.5M922.2 154.5h26.3M922.2 159.5h26.3M826.0 160.5h25.5M943.3 161.5h5.2M922.2 163.5h26.3M923.2 164.5h4.5M833.1 166.5h13.4M922.2 167.5h26.3M849.6 168.5h1.9M922.2 168.5h26.3M934.6 170.5h9.3M922.2 171.5h26.3M936.7 172.5h6.3M928.7 173.5h4.5M922.2 174.5h8.5M944.0 177.5h3.8M826.0 178.5h25.5M939.6 178.5h7.8M826.0 179.5h25.5M933.6 179.5h9.7M828.2 184.5h7.9M826.0 185.5h25.5M939.9 185.5h8.6M841.0 186.5h6.4M922.2 186.5h26.3M834.2 187.5h8.5M842.6 187.5h6.8M922.2 188.5h26.3M925.6 189.5h10.3M922.2 190.5h26.3M826.0 191.5h25.5M922.2 192.5h26.3M826.0 193.5h25.5M934.5 194.5h3.9M937.4 194.5h3.3M922.2 196.5h26.3M848.1 197.5h3.4M922.2 197.5h26.3M922.2 200.5h26.3M945.5 202.5h3.0M830.0 207.5h15.3M936.8 210.5h11.7M922.2 211.5h26.3M922.2 212.5h26.3M922.2 213.5h26.3M922.2 216.5h12.1M849.5 218.5h2.0M826.0 220.5h25.5M922.2 222.5h26.3M940.1 224.5h7.3M922.2 225.5h26.3M922.2 225.5h4.3M922.2 227.5h26.3M838.3 228.5h9.8M844.3 235.5h3.0M922.2 239.5h26.3M845.1 240.5h3.2M945.3 243.5h3.2M940.2 244.5h8.3M831.6 250.5h13.6M922.2 251.5h7.1M836.1 257.5h3.1M922.2 264.5h26.3M840.7 266.5h10.8M922.2 266.5h12.3M840.9 269.5h6.0M848.3 275.5h3.2M945.5 282.5h3.0M922.2 288.5h26.3M940.5 295.5h8.0M833.4 311.5h10.2M834.7 319.5h9.5M841.9 325.5h4.9M933.3 344.5h10.6M845.7 353.5h5.8M841.1 353.5h10.4M930.1 367.5h9.4M937.0 368.5h11.5M939.6 371.5h4.1M922.2 379.5h10.9M923.2 392.5h8.6M934.1 395.5h11.0M826.0 404.5h14.0M922.2 411.5h2.3M842.4 437.5h7.1M839.6 440.5h11.2M848.6 452.5h2.9M835.0 463.5h2.8M835.4 466.5h14.5M836.2 486.5h9.9M936.7 493.5h6.1M940.9 500.5h7.2M942.1 505.5h3.8M935.8 505.5h5.8M933.3 512.5h2.8M939.1 519.5h9.4M922.2 526.5h5.7"/><path stroke="#ffebeb" d="M922.2 97.5h26.3M826.0 98.5h25.5M829.6 100.5h13.0M828.9 100.5h4.1M922.2 100.5h26.3M922.2 101.5h26.3M922.2 103.5h26.3M934.7 103.5h7.5M922.2 107.5h26.3M922.2 108.5h26.3M922.2 109.5h26.3M922.2 111.5h26.3M826.0 114.5h25.5M922.2 114.5h26.3M941.0 115.5h7.5M922.2 121.5h26.3M836.8 122.5h3.2M826.0 124.5h25.5M922.2 124.5h26.3M826.0 125.5h25.5M832.3 125.5h8.3M928.8 125.5h12.3M922.2 126.5h26.3M936.5 127.5h3.6M833.8 128.5h8.2M826.0 129.5h11.8M922.2 130.5h26.3M839.0 131.5h12.1M922.2 131.5h26.3M836.7 132.5h9.8M922.2 134.5h26.3M840.2 136.5h7.1M922.2 137.5h26.3M838.8 138.5h12.7M922.2 140.5h26.3M844.2 142.5h3.8M922.2 144.5h11.8M938.7 144.5h9.8M922.2 148.5h26.3M826.0 149.5h25.5M922.2 149.5h26.3M922.2 152.5h26.3M826.0 153.5h2.9M922.2 158.5h11.9M922.2 160.5h26.3M932.0 161.5h12.9M826.0 166.5h4.9M826.7 167.5h2.9M841.0 169.5h9.9M841.8 170.5h8.0M846.3 172.5h5.2M922.2 172.5h26.3M922.2 173.5h13.1M928.9 178.5h5.3M845.8 181.5h3.9M831.7 189.5h5.2M922.2 191.5h26.3M836.8 195.5h3.5M943.6 198.5h4.9M827.4 201.5h15.3M836.1 203.5h15.0M835.0 205.5h11.3M838.3 207.5h5.7M844.4 210.5h7.1M922.2 211.5h3.9M943.5 226.5h5.0M841.0 227.5h10.5M841.8 227.5h7.3M937.6 233.5h10.9M826.0 237.5h9.5M922.2 241.5h4.3M923.0 241.5h11.1M938.2 245.5h7.4M842.0 247.5h3.4M937.6 255.5h3.4M848.2 270.5h3.3M937.8 275.5h10.7M828.4 286.5h13.7M828.6 287.5h3.1M847.1 287.5h4.4M932.9 287.5h12.9M933.5 293.5h5.1M926.1 299.5h9.6M941.4 308.5h7.1M944.8 309.5h3.7M843.3 314.5h6.4M935.0 314.5h13.5M938.9 317.5h9.6M843.5 322.5h8.0M927.8 329.5h9.9M937.6 332.5h10.9M833.3 340.5h5.9M922.2 347.5h12.4M928.7 355.5h3.4M831.4 416.5h15.0M922.2 433.5h11.1M831.3 436.5h6.8M839.5 443.5h9.0M938.4 446.5h10.1M830.0 449.5h4.0M931.0 451.5h14.9M929.8 455.5h11.8M848.7 457.5h2.8M934.6 457.5h4.9M846.1 459.5h5.4M930.0 460.5h9.5M826.0 464.5h3.6M939.6 465.5h7.4M845.2 470.5h6.3M922.2 470.5h2.4M851.5 473.5h70.7M848.4 478.5h3.1M841.8 479.5h8.1M924.3 484.5h10.3M943.8 489.5h4.7M829.6 492.5h6.8M829.2 494.5h13.9M922.6 500.5h8.0M833.2 503.5h12.5M851.5 506.5h70.7M922.2 515.5h4.4M939.1 522.5h9.4M851.5 526.5h70.7M851.5 527.5h70.7M851.5 531.5h70.7M844.7 532.5h6.8M922.2 532.5h5.0M934.4 533.5h7.6"/><path stroke="#ffe7e7" d="M838.4 97.5h9.4M826.0 98.5h7.3M829.0 102.5h13.5M848.3 102.5h3.2M922.2 103.5h6.3M924.0 106.5h11.7M926.2 107.5h15.3M931.9 109.5h5.2M840.2 110.5h8.8M922.2 110.5h26.3M829.0 114.5h9.4M922.8 114.5h9.6M841.2 116.5h9.3M827.2 116.5h4.5M845.6 117.5h5.9M922.2 119.5h26.3M922.2 119.5h5.4M835.2 120.5h4.7M940.3 124.5h8.2M922.2 127.5h26.3M929.0 128.5h15.9M926.3 129.5h5.0M835.5 130.5h15.4M845.1 132.5h3.7M826.0 135.5h9.0M942.1 138.5h6.4M844.5 142.5h7.0M922.2 144.5h26.3M936.4 144.5h5.2M923.9 144.5h12.1M932.6 146.5h15.0M940.7 151.5h7.6M924.1 151.5h4.7M846.2 152.5h5.3M846.3 155.5h5.2M827.4 159.5h4.5M833.0 159.5h9.8M837.0 160.5h12.6M849.9 166.5h1.6M849.0 170.5h2.5M840.0 170.5h7.6M835.8 172.5h15.7M943.1 172.5h5.4M849.7 174.5h1.8M847.1 177.5h4.3M940.6 180.5h6.5M922.2 180.5h5.7M932.2 190.5h8.7M844.0 191.5h3.8M835.6 192.5h4.3M940.9 193.5h7.4M836.6 199.5h6.0M827.2 199.5h14.3M940.2 199.5h3.6M939.4 204.5h4.8M941.2 208.5h3.6M830.5 210.5h13.5M939.6 213.5h8.9M934.9 213.5h5.2M847.3 215.5h4.2M934.1 215.5h4.5M928.6 229.5h7.3M941.9 236.5h6.6M922.2 241.5h2.2M826.0 244.5h11.9M946.6 245.5h1.9M839.3 257.5h12.2M934.1 257.5h5.9M827.6 262.5h8.9M938.7 271.5h9.8M827.3 274.5h3.6M842.6 274.5h8.9M837.8 278.5h7.9M826.0 279.5h3.6M940.6 283.5h7.9M849.8 286.5h1.7M937.3 287.5h9.6M841.4 289.5h10.1M831.9 291.5h10.8M924.5 296.5h6.0M945.6 301.5h2.9M826.0 304.5h5.6M943.9 314.5h4.6M831.1 317.5h10.4M839.4 323.5h12.1M937.9 340.5h8.3M935.7 345.5h9.9M848.8 357.5h2.7M933.3 360.5h9.3M935.8 363.5h8.4M946.1 365.5h2.4M848.6 370.5h2.9M936.9 370.5h11.6M931.5 376.5h15.7M922.2 389.5h11.7M837.4 401.5h11.4M922.2 408.5h13.1M830.2 433.5h8.0M841.3 435.5h3.2M938.4 451.5h4.1M851.5 453.5h70.7M929.1 462.5h5.2M840.1 463.5h10.3M837.2 465.5h13.3M936.7 467.5h11.8M925.4 471.5h4.6M834.8 478.5h4.0M929.4 478.5h3.4M851.5 480.5h70.7M851.5 483.5h70.7M939.4 483.5h5.7M847.2 484.5h4.3M851.5 492.5h70.7M933.1 495.5h10.7M946.4 501.5h2.1M829.1 506.5h15.9M851.5 507.5h70.7M942.7 508.5h3.7M931.8 508.5h12.1M851.5 509.5h70.7M851.5 510.5h70.7M851.5 511.5h70.7M938.9 511.5h9.6M851.5 516.5h70.7M851.5 519.5h70.7M851.5 522.5h70.7M851.5 525.5h70.7M851.5 529.5h70.7M851.5 532.5h70.7M851.5 533.5h70.7M851.5 534.5h70.7M851.5 535.5h70.7M851.5 536.5h70.7"/><path stroke="#ffe3e3" d="M935.0 101.5h3.7M922.2 103.5h1.7M845.2 109.5h2.8M847.9 113.5h3.6M923.8 113.5h2.8M939.5 119.5h9.0M922.2 119.5h6.4M922.2 120.5h2.9M931.3 122.5h11.5M847.1 126.5h4.4M936.9 127.5h11.6M828.1 129.5h5.0M933.1 130.5h9.6M937.1 130.5h11.4M831.0 131.5h4.6M922.2 137.5h3.6M933.2 139.5h4.8M922.2 142.5h11.4M922.2 145.5h26.3M926.4 145.5h10.6M929.5 150.5h4.4M842.0 152.5h9.5M930.2 158.5h8.0M832.3 160.5h10.1M936.2 165.5h4.4M936.1 166.5h11.4M831.5 174.5h2.7M838.2 176.5h5.7M930.3 176.5h3.4M835.0 178.5h7.4M847.7 183.5h3.8M929.6 183.5h14.7M925.5 185.5h3.8M927.7 186.5h13.7M922.2 190.5h11.6M934.1 190.5h10.2M848.1 201.5h3.4M923.5 201.5h3.5M837.9 203.5h7.0M830.9 206.5h10.9M932.9 210.5h2.8M836.4 212.5h11.9M843.9 223.5h4.3M829.7 225.5h7.6M826.0 225.5h6.4M826.2 225.5h11.4M849.0 227.5h2.5M841.5 229.5h10.0M932.9 230.5h8.8M836.4 233.5h9.8M933.9 233.5h8.5M923.5 244.5h15.0M926.3 245.5h11.0M846.0 249.5h5.5M932.0 252.5h7.9M840.1 260.5h7.4M926.9 261.5h14.9M846.6 262.5h4.9M826.0 271.5h8.5M931.8 285.5h8.0M927.0 293.5h3.8M935.4 293.5h4.2M932.5 298.5h13.6M943.6 306.5h4.9M830.1 309.5h15.8M922.2 318.5h5.2M839.9 326.5h8.6M832.0 326.5h4.7M933.7 326.5h4.0M943.3 330.5h5.2M830.8 332.5h3.2M839.4 337.5h12.1M922.2 337.5h3.6M843.5 338.5h8.0M828.6 344.5h12.9M923.6 344.5h3.4M830.8 346.5h6.8M925.6 351.5h9.9M925.2 357.5h7.2M939.0 357.5h6.9M834.1 361.5h3.9M947.0 361.5h1.5M935.5 361.5h12.4M926.2 382.5h11.6M844.4 383.5h7.1M827.8 402.5h2.5M826.0 403.5h14.2M922.2 406.5h14.4M826.0 415.5h11.5M851.5 432.5h70.7M937.5 444.5h11.0M830.9 446.5h13.9M945.1 447.5h3.4M933.2 449.5h13.5M828.7 454.5h14.1M832.3 457.5h11.9M845.9 464.5h5.6M851.5 465.5h70.7M851.5 475.5h70.7M925.0 479.5h14.5M851.5 481.5h70.7M851.5 484.5h70.7M938.5 485.5h4.3M851.5 488.5h70.7M851.5 489.5h70.7M851.5 490.5h70.7M851.5 491.5h70.7M851.5 493.5h70.7M851.5 496.5h70.7M927.5 496.5h3.9M851.5 500.5h70.7M851.5 502.5h70.7M851.5 505.5h70.7M833.9 507.5h5.9M851.5 508.5h70.7M937.5 508.5h3.1M851.5 512.5h70.7M851.5 513.5h70.7M851.5 514.5h70.7M943.6 514.5h4.9M851.5 517.5h70.7M851.5 518.5h70.7M834.0 519.5h12.4M851.5 520.5h70.7M837.1 520.5h13.3M851.5 521.5h70.7M851.5 523.5h70.7M851.5 524.5h70.7M851.5 528.5h70.7M851.5 530.5h70.7"/><path stroke="#ffdfdf" d="M835.8 108.5h10.9M837.7 112.5h13.8M922.2 118.5h10.3M929.6 127.5h12.8M930.4 128.5h5.3M922.2 128.5h13.3M846.0 132.5h5.5M830.7 132.5h13.7M938.3 137.5h10.2M847.3 141.5h4.2M925.1 141.5h9.6M924.6 144.5h3.6M936.8 146.5h10.0M826.1 149.5h5.7M826.0 153.5h7.4M926.6 154.5h5.6M931.7 157.5h10.4M922.2 157.5h2.6M943.5 158.5h5.0M826.0 164.5h15.3M946.5 164.5h2.0M932.1 165.5h5.6M929.4 168.5h5.6M941.5 168.5h7.0M826.0 169.5h5.5M826.0 169.5h3.9M827.1 170.5h6.9M945.1 176.5h3.4M931.5 178.5h3.4M836.7 181.5h14.8M925.6 183.5h12.5M931.9 183.5h8.3M843.0 187.5h8.4M836.0 200.5h2.7M931.3 201.5h15.3M932.4 211.5h11.1M938.2 216.5h6.1M839.5 219.5h6.8M924.6 221.5h10.8M942.3 222.5h6.2M844.6 224.5h6.4M927.2 226.5h8.9M923.2 233.5h10.4M832.9 242.5h9.4M923.7 245.5h10.7M826.0 248.5h1.7M826.0 251.5h5.1M922.2 263.5h7.1M840.1 266.5h11.4M834.2 271.5h13.0M926.9 275.5h4.1M941.3 289.5h7.2M946.7 291.5h1.8M925.9 294.5h9.6M837.5 305.5h2.5M923.9 305.5h5.5M841.0 318.5h10.0M840.7 324.5h9.9M826.7 325.5h9.0M941.0 326.5h7.5M934.8 330.5h7.9M942.8 332.5h5.7M829.7 333.5h13.4M925.3 345.5h11.4M928.3 351.5h8.8M930.1 355.5h15.1M942.4 356.5h6.1M826.0 367.5h10.1M826.0 377.5h4.0M925.9 383.5h7.3M922.2 394.5h2.5M939.1 400.5h9.4M846.4 409.5h2.8M946.8 423.5h1.7M941.1 424.5h7.4M834.3 432.5h7.0M946.3 433.5h2.2M851.5 434.5h70.7M943.4 439.5h5.1M928.4 441.5h5.0M851.5 447.5h70.7M923.7 450.5h13.5M826.5 451.5h10.9M922.2 452.5h6.0M851.5 454.5h70.7M851.5 458.5h70.7M851.5 461.5h70.7M851.5 464.5h70.7M847.4 465.5h4.1M851.5 467.5h70.7M843.1 468.5h5.3M851.5 470.5h70.7M851.5 471.5h70.7M851.5 472.5h70.7M927.6 472.5h9.7M851.5 474.5h70.7M924.3 475.5h8.6M851.5 476.5h70.7M851.5 477.5h70.7M851.5 478.5h70.7M851.5 479.5h70.7M851.5 482.5h70.7M851.5 485.5h70.7M851.5 487.5h70.7M851.5 494.5h70.7M851.5 495.5h70.7M833.4 495.5h8.0M842.6 496.5h8.9M851.5 497.5h70.7M851.5 498.5h70.7M851.5 499.5h70.7M851.5 501.5h70.7M851.5 503.5h70.7M851.5 504.5h70.7M851.5 515.5h70.7"/><path stroke="#ffdbdb" d="M842.4 105.5h9.1M926.0 109.5h4.9M927.5 113.5h11.8M941.7 118.5h6.8M940.2 118.5h8.3M836.9 119.5h10.2M839.5 123.5h12.0M922.3 125.5h6.3M832.2 126.5h7.4M826.0 133.5h7.7M826.0 135.5h4.1M847.8 135.5h3.5M922.2 135.5h4.5M941.7 142.5h6.8M930.7 148.5h9.2M829.3 152.5h5.0M927.5 152.5h2.8M826.0 153.5h7.0M833.3 154.5h12.1M826.0 155.5h9.6M826.0 155.5h5.5M934.5 162.5h13.7M835.6 166.5h14.2M938.1 170.5h10.4M840.7 174.5h5.2M936.4 175.5h4.5M930.0 175.5h13.6M935.5 176.5h12.5M828.9 177.5h11.6M826.0 179.5h12.3M826.0 188.5h5.8M935.0 189.5h7.3M922.2 195.5h7.3M937.6 198.5h7.0M942.6 203.5h5.9M922.2 207.5h3.7M835.9 208.5h3.7M926.3 208.5h15.6M835.7 209.5h15.3M845.6 209.5h5.9M836.6 213.5h6.3M925.0 214.5h8.0M841.8 216.5h9.7M826.0 216.5h7.3M826.0 217.5h1.8M943.5 219.5h5.0M933.4 223.5h10.2M839.0 224.5h4.5M938.1 230.5h10.4M922.2 237.5h6.9M943.7 250.5h4.8M834.8 252.5h6.4M846.3 264.5h5.2M833.6 266.5h9.7M835.0 267.5h8.4M931.5 281.5h11.6M840.0 286.5h8.7M841.6 295.5h9.9M936.2 295.5h10.2M946.5 300.5h2.0M834.1 304.5h5.3M826.0 307.5h8.1M925.3 313.5h10.3M836.5 318.5h9.9M936.7 320.5h4.8M940.4 345.5h8.1M931.1 346.5h8.6M945.2 349.5h3.3M945.7 350.5h2.8M922.2 359.5h3.4M826.0 376.5h8.5M845.3 376.5h6.2M847.8 384.5h3.7M826.0 386.5h2.0M932.8 386.5h13.0M843.1 399.5h7.3M835.9 400.5h5.9M946.7 403.5h1.8M839.2 413.5h10.6M826.0 414.5h3.5M942.2 421.5h6.3M851.5 422.5h70.7M835.6 424.5h9.9M922.2 424.5h8.1M851.5 430.5h70.7M851.5 440.5h70.7M936.3 440.5h11.3M832.1 442.5h2.9M847.2 446.5h4.3M851.5 449.5h70.7M842.7 449.5h8.8M851.5 450.5h70.7M940.1 461.5h8.4M851.5 462.5h70.7M851.5 463.5h70.7M851.5 468.5h70.7M851.5 469.5h70.7M851.5 486.5h70.7"/><path stroke="#ffd7d7" d="M826.0 101.5h10.5M928.9 101.5h10.6M937.2 106.5h11.3M849.5 108.5h2.0M826.0 109.5h2.6M837.1 113.5h3.4M826.0 113.5h8.4M929.0 114.5h8.4M945.6 116.5h2.9M939.0 121.5h9.5M926.0 123.5h3.3M832.4 124.5h11.0M944.5 125.5h4.0M928.6 137.5h15.0M923.9 139.5h2.7M946.3 143.5h2.2M945.2 144.5h3.3M929.8 155.5h4.6M923.3 160.5h6.9M837.2 164.5h2.9M838.0 171.5h10.6M844.3 172.5h7.2M926.9 179.5h13.2M934.6 183.5h13.9M836.8 184.5h3.3M830.8 184.5h7.5M944.9 188.5h3.6M838.6 189.5h7.2M842.5 193.5h9.0M831.9 195.5h9.6M946.2 195.5h2.3M938.0 197.5h10.5M935.1 198.5h6.0M941.0 199.5h7.5M930.2 206.5h10.3M922.9 206.5h14.4M944.8 207.5h3.7M833.9 209.5h9.3M930.5 216.5h4.2M940.4 220.5h5.6M929.6 232.5h8.6M940.2 233.5h8.3M945.8 234.5h2.7M922.2 236.5h12.4M929.8 245.5h4.4M827.7 248.5h15.6M922.2 256.5h2.6M922.3 261.5h4.1M935.2 268.5h12.9M834.5 289.5h15.9M931.2 289.5h5.3M944.5 290.5h4.0M926.1 293.5h7.8M922.2 296.5h5.7M927.4 296.5h10.7M944.9 298.5h3.6M922.2 302.5h11.8M923.1 306.5h15.8M846.3 308.5h2.9M922.2 309.5h8.7M939.4 322.5h8.3M935.9 323.5h12.2M925.3 337.5h13.1M839.7 346.5h8.3M835.9 348.5h7.6M926.4 362.5h9.0M851.5 375.5h70.7M847.1 377.5h4.4M926.8 379.5h8.7M922.2 392.5h9.7M846.5 396.5h3.7M830.6 406.5h6.5M936.5 412.5h12.0M925.2 424.5h13.5M851.5 429.5h70.7M851.5 438.5h70.7M851.5 439.5h70.7M851.5 442.5h70.7M851.5 443.5h70.7M851.5 446.5h70.7M851.5 451.5h70.7M851.5 455.5h70.7M851.5 456.5h70.7M851.5 457.5h70.7M851.5 459.5h70.7M851.5 460.5h70.7M851.5 466.5h70.7"/><path stroke="#ffd3d3" d="M826.0 98.5h2.6M937.3 98.5h9.2M944.4 99.5h4.1M935.5 105.5h2.9M938.3 105.5h5.6M922.2 107.5h6.7M922.5 111.5h4.4M924.6 111.5h3.7M946.1 112.5h2.4M847.2 113.5h4.3M936.6 114.5h11.0M923.0 117.5h5.1M833.8 120.5h15.3M925.2 121.5h15.6M922.2 123.5h9.9M826.0 127.5h2.9M940.2 127.5h5.5M937.6 127.5h10.9M831.6 130.5h14.8M929.0 133.5h6.4M837.7 138.5h9.8M834.2 141.5h8.0M836.7 141.5h14.7M931.1 141.5h4.2M829.8 146.5h5.8M841.2 147.5h10.3M925.5 150.5h5.6M923.5 151.5h7.2M922.5 156.5h8.2M832.2 158.5h15.4M840.2 159.5h9.2M927.5 169.5h7.9M935.2 177.5h13.3M832.2 185.5h15.5M830.4 185.5h7.5M945.7 187.5h2.8M837.0 191.5h5.2M843.4 191.5h4.1M932.8 193.5h15.2M830.0 200.5h7.6M849.6 211.5h1.9M827.2 212.5h6.2M848.6 214.5h2.9M837.5 215.5h12.8M929.8 216.5h12.5M930.7 220.5h11.5M828.2 227.5h5.5M939.9 230.5h8.6M841.1 232.5h10.4M832.9 233.5h4.5M827.2 236.5h13.7M849.4 237.5h2.1M845.1 249.5h6.4M943.1 250.5h5.4M930.3 257.5h7.0M941.2 260.5h7.3M827.0 270.5h15.7M840.2 271.5h5.8M938.6 283.5h3.6M931.8 287.5h12.2M833.0 305.5h5.8M941.3 307.5h7.2M944.5 308.5h4.0M829.7 312.5h4.7M942.1 316.5h6.4M833.5 345.5h11.2M929.8 352.5h12.5M849.3 355.5h2.2M933.9 363.5h14.4M851.5 373.5h70.7M851.5 423.5h70.7M851.5 425.5h70.7M851.5 426.5h70.7M851.5 433.5h70.7M851.5 436.5h70.7M851.5 437.5h70.7M851.5 441.5h70.7M851.5 444.5h70.7M851.5 445.5h70.7M851.5 448.5h70.7"/><path stroke="#ffcfcf" d="M923.3 100.5h13.3M832.6 110.5h14.8M924.0 112.5h10.2M836.4 116.5h9.9M826.0 120.5h11.6M941.7 121.5h6.8M841.2 123.5h6.2M923.8 126.5h7.7M924.2 133.5h13.3M848.5 134.5h3.0M929.3 139.5h4.4M945.8 140.5h2.7M930.0 140.5h8.8M829.8 145.5h11.5M830.8 149.5h3.1M829.4 149.5h9.6M835.1 158.5h5.0M843.6 158.5h7.9M929.5 164.5h6.3M826.1 170.5h15.9M942.9 170.5h5.6M940.9 186.5h7.6M845.4 187.5h4.1M927.6 189.5h15.7M922.2 190.5h11.0M828.7 199.5h7.0M826.0 201.5h15.0M941.0 218.5h6.0M840.8 220.5h7.9M938.5 226.5h5.4M924.8 227.5h7.4M922.2 234.5h3.5M827.3 239.5h5.7M843.3 240.5h8.2M843.0 244.5h6.5M927.2 247.5h7.9M847.3 257.5h4.2M939.6 257.5h4.8M935.9 259.5h10.6M934.6 266.5h11.8M931.8 274.5h7.3M836.1 281.5h12.6M933.3 281.5h10.3M845.6 288.5h5.9M845.4 288.5h6.1M946.7 296.5h1.8M928.8 303.5h3.2M939.5 310.5h9.0M833.5 313.5h10.0M826.6 325.5h7.3M925.0 329.5h13.4M843.0 334.5h8.5M844.8 338.5h6.7M937.2 338.5h4.2M830.3 341.5h5.9M939.1 346.5h9.4M944.2 347.5h4.3M851.5 378.5h70.7M851.5 380.5h70.7M851.5 384.5h70.7M851.5 397.5h70.7M851.5 404.5h70.7M851.5 406.5h70.7M851.5 410.5h70.7M851.5 414.5h70.7M851.5 415.5h70.7M851.5 417.5h70.7M851.5 419.5h70.7M851.5 431.5h70.7M851.5 435.5h70.7M851.5 452.5h70.7"/><path stroke="#ffcbcb" d="M933.2 98.5h13.9M846.7 102.5h4.8M941.9 102.5h6.0M838.0 105.5h13.5M838.3 105.5h7.7M826.0 109.5h1.7M839.6 109.5h8.5M933.2 109.5h11.9M834.7 110.5h4.3M831.5 119.5h11.5M849.9 120.5h1.6M926.4 120.5h7.4M845.1 128.5h6.4M848.8 128.5h2.7M836.5 131.5h14.2M922.2 134.5h3.1M848.3 139.5h3.2M922.2 141.5h5.4M922.8 149.5h5.9M833.3 151.5h3.0M831.6 151.5h3.3M826.0 152.5h5.7M926.8 154.5h15.7M934.1 156.5h12.0M927.2 159.5h14.5M829.1 162.5h12.2M832.6 163.5h4.2M922.2 163.5h13.3M833.3 168.5h15.3M827.9 169.5h12.5M846.5 174.5h5.0M935.6 174.5h6.3M922.2 174.5h4.6M841.4 175.5h10.1M929.0 177.5h7.4M844.7 179.5h5.9M939.4 181.5h9.1M925.7 189.5h5.7M945.6 191.5h2.9M942.9 191.5h5.6M847.7 193.5h3.8M928.9 193.5h8.6M826.0 200.5h7.5M831.5 200.5h13.1M934.5 202.5h9.8M938.7 222.5h9.8M826.0 226.5h8.7M834.1 227.5h8.4M836.9 231.5h9.6M830.1 237.5h5.7M842.2 247.5h9.0M832.3 254.5h6.5M835.2 256.5h11.3M930.3 276.5h6.4M830.6 283.5h12.4M922.2 284.5h6.1M922.4 287.5h11.1M941.5 291.5h7.0M839.5 292.5h12.0M928.0 293.5h13.3M936.1 300.5h10.8M826.4 303.5h5.8M851.5 367.5h70.7M851.5 372.5h70.7M851.5 376.5h70.7M851.5 377.5h70.7M851.5 381.5h70.7M851.5 387.5h70.7M851.5 390.5h70.7M851.5 401.5h70.7M851.5 402.5h70.7M851.5 403.5h70.7M851.5 407.5h70.7M851.5 408.5h70.7M851.5 411.5h70.7M851.5 420.5h70.7M851.5 421.5h70.7M851.5 424.5h70.7"/><path stroke="#ffc7c7" d="M925.1 102.5h15.5M942.6 107.5h5.9M931.8 109.5h2.6M848.1 110.5h3.4M936.7 110.5h11.8M942.4 111.5h6.1M835.7 113.5h10.1M925.1 115.5h4.3M943.5 118.5h5.0M926.4 120.5h10.1M835.6 125.5h10.1M926.0 131.5h3.6M931.7 132.5h6.6M827.6 134.5h6.0M940.0 140.5h8.5M834.9 146.5h3.0M835.7 150.5h3.1M931.3 150.5h4.5M940.2 150.5h8.3M925.7 153.5h12.0M830.7 164.5h7.5M933.9 164.5h11.9M941.5 167.5h7.0M829.0 172.5h12.1M845.9 173.5h5.6M929.6 178.5h15.9M826.0 187.5h13.0M929.4 188.5h11.8M940.0 197.5h8.5M946.3 197.5h2.2M835.3 200.5h12.5M945.2 206.5h3.3M828.2 218.5h6.6M929.7 218.5h8.0M827.4 232.5h6.4M946.8 232.5h1.7M829.8 237.5h5.7M838.6 238.5h4.5M848.8 245.5h2.7M937.1 245.5h11.4M833.0 252.5h13.4M926.9 256.5h8.9M826.9 259.5h7.5M943.4 259.5h5.1M922.2 269.5h6.4M940.4 292.5h8.1M851.5 356.5h70.7M851.5 374.5h70.7M851.5 382.5h70.7M851.5 386.5h70.7M851.5 392.5h70.7M851.5 393.5h70.7M851.5 394.5h70.7M851.5 409.5h70.7M851.5 413.5h70.7M851.5 416.5h70.7M851.5 418.5h70.7M851.5 427.5h70.7M851.5 428.5h70.7"/><path stroke="#ffc3c3" d="M826.0 99.5h4.4M849.0 100.5h2.5M925.6 101.5h5.4M932.1 104.5h11.1M922.2 105.5h12.2M922.2 113.5h14.7M836.2 116.5h4.1M930.3 122.5h10.4M831.6 124.5h5.3M841.9 128.5h9.6M936.9 128.5h4.0M848.5 130.5h3.0M840.1 135.5h9.4M946.5 135.5h2.0M940.9 136.5h7.6M922.8 136.5h10.8M935.2 139.5h7.7M937.3 144.5h5.7M826.9 147.5h15.3M940.5 147.5h8.0M837.2 149.5h10.2M929.5 151.5h8.7M934.5 154.5h11.0M837.7 159.5h10.9M940.1 162.5h7.0M924.1 169.5h15.4M826.0 172.5h13.7M928.2 173.5h3.0M830.0 176.5h14.3M928.1 177.5h11.5M936.7 182.5h11.8M826.0 188.5h13.3M932.9 192.5h6.2M927.1 194.5h15.8M846.0 196.5h5.5M926.1 201.5h4.1M927.8 206.5h8.7M935.8 210.5h12.7M934.6 211.5h13.9M927.7 212.5h15.2M926.6 212.5h14.8M842.3 220.5h6.5M837.2 223.5h10.1M934.6 224.5h13.9M831.9 228.5h3.1M836.5 233.5h14.1M851.5 292.5h70.7M851.5 318.5h70.7M851.5 332.5h70.7M851.5 336.5h70.7M851.5 344.5h70.7M851.5 352.5h70.7M851.5 353.5h70.7M851.5 363.5h70.7M851.5 368.5h70.7M851.5 379.5h70.7M851.5 383.5h70.7M851.5 388.5h70.7M851.5 398.5h70.7M851.5 405.5h70.7M851.5 412.5h70.7"/><path stroke="#ffbfbf" d="M839.6 97.5h9.4M938.5 104.5h10.0M833.7 105.5h14.3M933.7 110.5h14.8M826.0 111.5h11.2M833.2 113.5h9.5M922.2 115.5h4.8M943.9 117.5h2.7M922.2 124.5h3.0M925.6 124.5h8.2M933.8 126.5h13.3M844.6 128.5h6.9M942.6 131.5h5.9M849.1 133.5h2.4M831.3 134.5h12.3M842.0 137.5h9.5M830.1 138.5h13.6M842.3 141.5h3.2M840.6 142.5h10.9M837.9 142.5h12.6M826.8 144.5h8.9M927.2 144.5h12.3M934.7 148.5h12.1M925.1 150.5h3.0M939.0 152.5h9.5M929.6 163.5h11.0M841.0 170.5h6.2M935.3 171.5h10.5M840.2 172.5h11.3M839.0 178.5h11.6M846.1 179.5h2.7M846.2 181.5h5.3M934.1 186.5h10.9M922.2 186.5h7.8M837.7 190.5h10.8M924.9 193.5h7.2M934.6 194.5h2.9M849.3 196.5h2.2M930.1 199.5h5.4M945.4 203.5h3.1M941.3 209.5h7.2M922.2 210.5h10.7M851.5 331.5h70.7M851.5 345.5h70.7M851.5 347.5h70.7M851.5 350.5h70.7M851.5 354.5h70.7M851.5 366.5h70.7M851.5 371.5h70.7M851.5 389.5h70.7M851.5 391.5h70.7M851.5 395.5h70.7M851.5 396.5h70.7M851.5 400.5h70.7"/><path stroke="#ffbbbb" d="M927.0 101.5h13.3M929.6 101.5h5.3M939.4 104.5h9.1M944.4 110.5h4.1M845.7 112.5h5.8M844.7 115.5h6.8M947.0 115.5h1.5M829.2 118.5h13.4M826.0 120.5h10.0M826.0 123.5h4.9M934.6 125.5h12.1M829.3 130.5h9.0M833.7 132.5h13.2M926.7 143.5h5.3M830.4 145.5h5.6M828.1 150.5h7.4M931.5 150.5h5.8M826.3 152.5h7.4M938.0 159.5h10.5M848.3 163.5h3.2M943.1 166.5h5.4M931.7 171.5h4.6M938.4 178.5h10.1M924.5 178.5h11.4M851.5 327.5h70.7M851.5 329.5h70.7M851.5 346.5h70.7M851.5 349.5h70.7M851.5 359.5h70.7M851.5 360.5h70.7M851.5 362.5h70.7M851.5 364.5h70.7M851.5 365.5h70.7M851.5 369.5h70.7M851.5 370.5h70.7M851.5 399.5h70.7"/><path stroke="#ffb7b7" d="M826.3 102.5h5.0M926.3 103.5h10.8M844.6 107.5h6.9M844.3 110.5h7.2M932.4 111.5h15.3M849.7 116.5h1.8M836.1 118.5h10.6M828.5 119.5h10.9M925.4 123.5h5.1M937.0 124.5h7.5M837.9 127.5h9.8M922.2 133.5h5.0M842.0 137.5h4.4M847.5 138.5h4.0M847.1 146.5h4.4M851.5 306.5h70.7M851.5 310.5h70.7M851.5 328.5h70.7M851.5 330.5h70.7M851.5 338.5h70.7M851.5 339.5h70.7M851.5 385.5h70.7"/><path stroke="#ffb3b3" d="M946.9 98.5h1.6M922.2 101.5h10.1M943.9 103.5h4.6M839.9 105.5h3.6M944.1 110.5h4.4M851.5 321.5h70.7M851.5 325.5h70.7M851.5 326.5h70.7M851.5 337.5h70.7M851.5 341.5h70.7M851.5 342.5h70.7M851.5 357.5h70.7M851.5 358.5h70.7"/><path stroke="#ffafaf" d="M851.5 293.5h70.7M851.5 305.5h70.7M851.5 311.5h70.7M851.5 320.5h70.7M851.5 334.5h70.7"/><path stroke="#ffabab" d="M851.5 304.5h70.7M851.5 315.5h70.7M851.5 316.5h70.7M851.5 324.5h70.7M851.5 348.5h70.7M851.5 355.5h70.7M851.5 361.5h70.7"/><path stroke="#ffa7a7" d="M851.5 294.5h70.7M851.5 300.5h70.7M851.5 322.5h70.7M851.5 333.5h70.7M851.5 335.5h70.7M851.5 340.5h70.7"/><path stroke="#ffa3a3" d="M851.5 204.5h70.7M851.5 282.5h70.7M851.5 309.5h70.7"/><path stroke="#ff9f9f" d="M851.5 313.5h70.7M851.5 314.5h70.7M851.5 323.5h70.7M851.5 343.5h70.7M851.5 351.5h70.7"/><path stroke="#ff9b9b" d="M851.5 277.5h70.7M851.5 301.5h70.7M851.5 312.5h70.7"/><path stroke="#ff9797" d="M851.5 238.5h70.7M851.5 298.5h70.7M851.5 302.5h70.7M851.5 303.5h70.7M851.5 307.5h70.7M851.5 308.5h70.7"/><path stroke="#ff9393" d="M851.5 274.5h70.7M851.5 278.5h70.7M851.5 286.5h70.7M851.5 290.5h70.7M851.5 317.5h70.7"/><path stroke="#ff8f8f" d="M851.5 185.5h70.7M851.5 269.5h70.7M851.5 283.5h70.7M851.5 319.5h70.7"/><path stroke="#ff8b8b" d="M851.5 224.5h70.7M851.5 263.5h70.7M851.5 279.5h70.7M851.5 297.5h70.7"/><path stroke="#ff8787" d="M851.5 273.5h70.7M851.5 284.5h70.7"/><path stroke="#ff8383" d="M851.5 275.5h70.7M851.5 276.5h70.7M851.5 295.5h70.7M851.5 299.5h70.7"/><path stroke="#ff8080" d="M851.5 226.5h70.7M851.5 258.5h70.7M851.5 281.5h70.7M851.5 285.5h70.7M851.5 287.5h70.7M851.5 296.5h70.7"/><path stroke="#ff7c7c" d="M851.5 239.5h70.7M851.5 242.5h70.7M851.5 246.5h70.7M851.5 254.5h70.7M851.5 260.5h70.7M851.5 272.5h70.7M851.5 280.5h70.7"/><path stroke="#ff7878" d="M851.5 213.5h70.7M851.5 228.5h70.7M851.5 244.5h70.7M851.5 271.5h70.7"/><path stroke="#ff7474" d="M851.5 248.5h70.7M851.5 264.5h70.7M851.5 265.5h70.7M851.5 270.5h70.7"/><path stroke="#ff7070" d="M851.5 202.5h70.7M851.5 231.5h70.7M851.5 243.5h70.7M851.5 247.5h70.7M851.5 249.5h70.7M851.5 267.5h70.7M851.5 288.5h70.7M851.5 289.5h70.7"/><path stroke="#ff6c6c" d="M851.5 262.5h70.7M851.5 266.5h70.7"/><path stroke="#ff6868" d="M851.5 212.5h70.7M851.5 219.5h70.7M851.5 232.5h70.7M851.5 253.5h70.7M851.5 257.5h70.7M851.5 259.5h70.7M851.5 261.5h70.7M851.5 291.5h70.7"/><path stroke="#ff6464" d="M851.5 123.5h70.7M851.5 216.5h70.7M851.5 237.5h70.7M851.5 250.5h70.7"/><path stroke="#ff6060" d="M851.5 141.5h70.7M851.5 177.5h70.7M851.5 225.5h70.7"/><path stroke="#ff5c5c" d="M851.5 113.5h70.7M851.5 197.5h70.7M851.5 208.5h70.7M851.5 217.5h70.7M851.5 241.5h70.7"/><path stroke="#ff5858" d="M851.5 192.5h70.7M851.5 233.5h70.7M851.5 236.5h70.7M851.5 251.5h70.7"/><path stroke="#ff5454" d="M851.5 223.5h70.7M851.5 230.5h70.7M851.5 268.5h70.7"/><path stroke="#ff4c4c" d="M851.5 252.5h70.7"/><path stroke="#ff4848" d="M851.5 173.5h70.7M851.5 195.5h70.7M851.5 227.5h70.7M851.5 240.5h70.7M851.5 256.5h70.7"/><path stroke="#ff4444" d="M851.5 110.5h70.7M851.5 167.5h70.7M851.5 181.5h70.7M851.5 234.5h70.7"/><path stroke="#ff3c3c" d="M851.5 206.5h70.7M851.5 214.5h70.7M851.5 235.5h70.7M851.5 255.5h70.7"/><path stroke="#ff3838" d="M851.5 139.5h70.7M851.5 203.5h70.7M851.5 215.5h70.7M851.5 218.5h70.7M851.5 222.5h70.7M851.5 245.5h70.7"/><path stroke="#ff3434" d="M851.5 221.5h70.7"/><path stroke="#ff3030" d="M851.5 186.5h70.7M851.5 210.5h70.7M851.5 211.5h70.7"/><path stroke="#ff2828" d="M851.5 188.5h70.7M851.5 201.5h70.7M851.5 229.5h70.7"/><path stroke="#ff2424" d="M851.5 174.5h70.7M851.5 187.5h70.7M851.5 199.5h70.7M851.5 205.5h70.7M851.5 207.5h70.7M851.5 209.5h70.7"/><path stroke="#ff2020" d="M851.5 194.5h70.7"/><path stroke="#ff1c1c" d="M851.5 142.5h70.7M851.5 169.5h70.7M851.5 171.5h70.7M851.5 180.5h70.7"/><path stroke="#ff1818" d="M851.5 130.5h70.7M851.5 152.5h70.7M851.5 159.5h70.7M851.5 184.5h70.7M851.5 200.5h70.7M851.5 220.5h70.7"/><path stroke="#ff1414" d="M851.5 106.5h70.7M851.5 182.5h70.7"/><path stroke="#ff1010" d="M851.5 145.5h70.7M851.5 147.5h70.7"/><path stroke="#ff0c0c" d="M851.5 162.5h70.7"/><path stroke="#f60808" d="M851.5 133.5h70.7M851.5 163.5h70.7"/><path stroke="#f60404" d="M851.5 136.5h70.7M851.5 143.5h70.7M851.5 151.5h70.7M851.5 190.5h70.7"/><path stroke="#f60000" d="M851.5 97.5h70.7M851.5 98.5h70.7M851.5 99.5h70.7M851.5 100.5h70.7M851.5 101.5h70.7M851.5 102.5h70.7M851.5 103.5h70.7M851.5 104.5h70.7M851.5 105.5h70.7M851.5 107.5h70.7M851.5 108.5h70.7M851.5 109.5h70.7M851.5 111.5h70.7M851.5 112.5h70.7M851.5 114.5h70.7M851.5 115.5h70.7M851.5 116.5h70.7M851.5 117.5h70.7M851.5 118.5h70.7M851.5 119.5h70.7M851.5 120.5h70.7M851.5 121.5h70.7M851.5 122.5h70.7M851.5 124.5h70.7M851.5 125.5h70.7M851.5 126.5h70.7M851.5 127.5h70.7M851.5 128.5h70.7M851.5 129.5h70.7M851.5 131.5h70.7M851.5 132.5h70.7M851.5 134.5h70.7M851.5 135.5h70.7M851.5 137.5h70.7M851.5 138.5h70.7M851.5 140.5h70.7M851.5 144.5h70.7M851.5 146.5h70.7M851.5 148.5h70.7M851.5 149.5h70.7M851.5 150.5h70.7M851.5 153.5h70.7M851.5 154.5h70.7M851.5 155.5h70.7M851.5 156.5h70.7M851.5 157.5h70.7M851.5 158.5h70.7M851.5 160.5h70.7M851.5 161.5h70.7M851.5 164.5h70.7M851.5 165.5h70.7M851.5 166.5h70.7M851.5 168.5h70.7M851.5 170.5h70.7M851.5 172.5h70.7M851.5 175.5h70.7M851.5 176.5h70.7M851.5 178.5h70.7M851.5 179.5h70.7M851.5 183.5h70.7M851.5 189.5h70.7M851.5 191.5h70.7M851.5 193.5h70.7M851.5 196.5h70.7M851.5 198.5h70.7"/><rect x="851.5" y="97.0" width="70.7" height="440" fill="url(#hp1)" mask="url(#hp1m)"/></g><g mask="url(#hp1gm)"><rect x="826.0" y="97.0" width="122.5" height="440" fill="#fff" filter="url(#hp1g)"/></g>
<defs><linearGradient id="hp2" x1="0" x2="1" y1="0" y2="0"><stop offset="0.00" stop-color="#fff" stop-opacity="0.20"/><stop offset="0.05" stop-color="#fff" stop-opacity="0.04"/><stop offset="0.50" stop-color="#fff" stop-opacity="0.00"/><stop offset="0.85" stop-color="#fff" stop-opacity="0.03"/><stop offset="0.94" stop-color="#fff" stop-opacity="0.10"/><stop offset="1.00" stop-color="#fff" stop-opacity="0.22"/></linearGradient><linearGradient id="hp2v" x1="0" x2="0" y1="0" y2="1"><stop offset="0.000" stop-color="#fff" stop-opacity="0.300"/><stop offset="1.000" stop-color="#fff" stop-opacity="1.000"/></linearGradient><mask id="hp2m" maskUnits="userSpaceOnUse" x="1082.5" y="97.0" width="71.3" height="440"><rect x="1082.5" y="97.0" width="71.3" height="440" fill="url(#hp2v)"/></mask><filter id="hp2g" x="0" y="0" width="1" height="1" color-interpolation-filters="sRGB"><feTurbulence type="fractalNoise" baseFrequency="0.11 0.9" numOctaves="2" seed="23" result="n"/><feColorMatrix in="n" type="matrix" values="0 0 0 0 1 0 0 0 0 1 0 0 0 0 1 1.25 0 0 0 -0.40"/><feComposite operator="in" in2="SourceGraphic"/></filter><linearGradient id="hp2gv" x1="0" x2="0" y1="0" y2="1"><stop offset="0.000" stop-color="#fff" stop-opacity="0.000"/><stop offset="0.020" stop-color="#fff" stop-opacity="0.250"/><stop offset="0.050" stop-color="#fff" stop-opacity="0.700"/><stop offset="0.100" stop-color="#fff" stop-opacity="1.000"/><stop offset="1.000" stop-color="#fff" stop-opacity="1.000"/></linearGradient><mask id="hp2gm" maskUnits="userSpaceOnUse" x="1057.5" y="97.0" width="122.0" height="440"><rect x="1057.5" y="97.0" width="122.0" height="440" fill="url(#hp2gv)"/></mask></defs><g fill="none" stroke-width="1.1" filter="url(#soft)"><path stroke="#fffbfb" d="M1057.5 223.5h25.0M1057.5 234.5h25.0M1153.8 246.5h25.7M1153.8 251.5h25.7M1057.5 257.5h25.0M1153.8 260.5h25.7M1057.5 266.5h25.0M1153.8 266.5h25.7M1153.8 286.5h25.7M1057.5 287.5h25.0M1057.5 288.5h25.0M1057.5 289.5h25.0M1153.8 293.5h25.7M1153.8 295.5h25.7M1153.8 299.5h25.7M1153.8 301.5h25.7M1057.5 304.5h25.0M1153.8 304.5h25.7M1057.5 310.5h25.0M1153.8 311.5h25.7M1153.8 313.5h25.7M1057.5 314.5h25.0M1153.8 316.5h25.7M1057.5 317.5h25.0M1153.8 319.5h25.7M1057.5 320.5h25.0M1057.5 325.5h25.0M1057.5 326.5h25.0M1057.5 329.5h25.0M1153.8 330.5h25.7M1057.5 332.5h25.0M1057.5 333.5h25.0M1057.5 334.5h25.0M1153.8 334.5h25.7M1057.5 336.5h25.0M1153.8 336.5h25.7M1057.5 340.5h25.0M1153.8 340.5h25.7M1153.8 341.5h25.7M1057.5 344.5h25.0M1153.8 344.5h25.7M1057.5 346.5h25.0M1057.5 347.5h25.0M1153.8 348.5h25.7M1057.5 349.5h25.0M1057.5 352.5h25.0M1057.5 354.5h25.0M1153.8 356.5h25.7M1057.5 357.5h25.0M1153.8 357.5h25.7M1057.5 359.5h25.0M1057.5 362.5h25.0M1153.8 362.5h25.7M1057.5 364.5h25.0M1153.8 364.5h25.7M1057.5 366.5h25.0M1153.8 366.5h25.7M1057.5 367.5h25.0M1057.5 368.5h25.0M1057.5 369.5h25.0M1057.5 370.5h25.0M1057.5 371.5h25.0M1057.5 372.5h25.0M1057.5 374.5h25.0M1057.5 375.5h25.0M1057.5 377.5h25.0M1153.8 378.5h25.7M1153.8 381.5h25.7M1153.8 382.5h25.7M1153.8 383.5h25.7M1153.8 384.5h25.7M1057.5 387.5h25.0M1153.8 388.5h25.7M1057.5 390.5h25.0M1153.8 390.5h25.7M1057.5 392.5h25.0M1057.5 393.5h25.0M1057.5 394.5h25.0M1153.8 394.5h25.7M1057.5 396.5h25.0M1153.8 396.5h25.7M1057.5 397.5h25.0M1057.5 398.5h25.0M1057.5 400.5h25.0M1057.5 402.5h25.0M1057.5 403.5h25.0M1153.8 403.5h25.7M1057.5 404.5h25.0M1153.8 404.5h25.7M1057.5 405.5h25.0M1153.8 405.5h25.7M1057.5 406.5h25.0M1153.8 406.5h25.7M1057.5 408.5h25.0M1153.8 408.5h25.7M1057.5 409.5h25.0M1057.5 411.5h25.0M1057.5 412.5h25.0M1057.5 413.5h25.0M1153.8 413.5h25.7M1057.5 414.5h25.0M1057.5 415.5h25.0M1057.5 416.5h25.0M1153.8 417.5h25.7M1057.5 418.5h25.0M1057.5 420.5h25.0M1057.5 421.5h25.0M1153.8 421.5h25.7M1153.8 423.5h25.7M1057.5 424.5h25.0M1153.8 424.5h25.7M1057.5 425.5h25.0M1057.5 426.5h25.0M1153.8 426.5h25.7M1057.5 429.5h25.0M1057.5 431.5h25.0M1153.8 431.5h25.7M1057.5 432.5h25.0M1153.8 432.5h25.7M1057.5 433.5h25.0M1057.5 434.5h25.0M1057.5 435.5h25.0M1153.8 435.5h25.7M1057.5 436.5h25.0M1057.5 438.5h25.0M1057.5 439.5h25.0M1153.8 439.5h25.7M1153.8 440.5h25.7M1057.5 441.5h25.0M1153.8 441.5h25.7M1057.5 442.5h25.0M1153.8 442.5h25.7M1153.8 443.5h25.7M1057.5 444.5h25.0M1057.5 445.5h25.0M1153.8 445.5h25.7M1057.5 446.5h25.0M1153.8 446.5h25.7M1057.5 447.5h25.0M1153.8 447.5h25.7M1153.8 448.5h25.7M1057.5 449.5h25.0M1153.8 450.5h25.7M1057.5 451.5h25.0M1153.8 451.5h25.7M1153.8 452.5h25.7M1153.8 454.5h25.7M1057.5 455.5h25.0M1057.5 456.5h25.0M1057.5 457.5h25.0M1057.5 458.5h25.0M1153.8 459.5h25.7M1057.5 460.5h25.0M1057.5 461.5h25.0M1057.5 462.5h25.0M1153.8 462.5h25.7M1057.5 463.5h25.0M1153.8 463.5h25.7M1153.8 464.5h25.7M1057.5 465.5h25.0M1153.8 465.5h25.7M1057.5 466.5h25.0M1153.8 466.5h25.7M1057.5 467.5h25.0M1057.5 468.5h25.0M1153.8 468.5h25.7M1057.5 469.5h25.0M1153.8 470.5h25.7M1057.5 471.5h25.0M1057.5 472.5h25.0M1153.8 472.5h25.7M1057.5 473.5h25.0M1057.5 474.5h25.0M1153.8 474.5h25.7M1057.5 475.5h25.0M1057.5 476.5h25.0M1057.5 477.5h25.0M1057.5 478.5h25.0M1153.8 478.5h25.7M1057.5 479.5h25.0M1153.8 479.5h25.7M1057.5 480.5h25.0M1057.5 481.5h25.0M1153.8 481.5h25.7M1057.5 482.5h25.0M1057.5 483.5h25.0M1057.5 484.5h25.0M1057.5 485.5h25.0M1153.8 485.5h25.7M1057.5 486.5h25.0M1153.8 486.5h25.7M1057.5 487.5h25.0M1057.5 488.5h25.0M1153.8 488.5h25.7M1057.5 489.5h25.0M1153.8 489.5h25.7M1057.5 490.5h25.0M1153.8 490.5h25.7M1057.5 491.5h25.0M1057.5 492.5h25.0M1153.8 492.5h25.7M1057.5 493.5h25.0M1153.8 493.5h25.7M1057.5 494.5h25.0M1153.8 494.5h25.7M1176.9 494.5h2.6M1057.5 495.5h25.0M1153.8 495.5h25.7M1153.8 496.5h25.7M1153.8 498.5h25.7M1057.5 499.5h25.0M1153.8 500.5h25.7M1153.8 501.5h25.7M1057.5 502.5h25.0M1057.5 503.5h25.0M1153.8 504.5h25.7M1057.5 505.5h25.0M1153.8 505.5h25.7M1057.5 506.5h25.0M1153.8 506.5h25.7M1057.5 507.5h25.0M1057.5 508.5h25.0M1153.8 508.5h25.7M1057.5 509.5h25.0M1057.5 510.5h25.0M1057.5 511.5h25.0M1153.8 511.5h25.7M1057.5 512.5h25.0M1153.8 512.5h25.7M1057.5 513.5h25.0M1153.8 513.5h25.7M1153.8 514.5h25.7M1057.5 515.5h25.0M1153.8 515.5h25.7M1057.5 516.5h25.0M1153.8 516.5h25.7M1057.5 517.5h25.0M1153.8 517.5h25.7M1057.5 518.5h25.0M1153.8 518.5h25.7M1057.5 519.5h25.0M1153.8 519.5h25.7M1057.5 520.5h25.0M1057.5 521.5h25.0M1153.8 521.5h25.7M1153.8 522.5h25.7M1057.5 523.5h25.0M1153.8 523.5h25.7M1057.5 524.5h25.0M1153.8 524.5h25.7M1153.8 525.5h25.7M1057.5 526.5h25.0M1153.8 526.5h25.7M1057.5 527.5h25.0M1057.5 528.5h25.0M1153.8 528.5h25.7M1057.5 529.5h25.0M1153.8 529.5h25.7M1057.5 530.5h25.0M1153.8 530.5h25.7M1153.8 531.5h25.7M1057.5 532.5h25.0M1057.5 533.5h25.0M1153.8 533.5h25.7M1057.5 534.5h25.0M1153.8 534.5h25.7M1057.5 535.5h25.0M1153.8 535.5h25.7M1057.5 536.5h25.0M1153.8 536.5h25.7"/><path stroke="#fff7f7" d="M1153.8 101.5h25.7M1153.8 109.5h25.7M1057.5 113.5h25.0M1057.5 118.5h25.0M1057.5 119.5h25.0M1057.5 120.5h25.0M1153.8 122.5h25.7M1153.8 123.5h25.7M1057.5 128.5h25.0M1153.8 133.5h25.7M1057.5 142.5h25.0M1057.5 149.5h25.0M1153.8 155.5h25.7M1153.8 157.5h25.7M1153.8 159.5h25.7M1057.5 161.5h25.0M1057.5 164.5h25.0M1057.5 166.5h25.0M1057.5 173.5h25.0M1057.5 174.5h25.0M1057.5 176.5h25.0M1057.5 177.5h25.0M1057.5 178.5h25.0M1057.5 180.5h25.0M1057.5 184.5h25.0M1057.5 185.5h25.0M1153.8 185.5h25.7M1057.5 186.5h25.0M1057.5 187.5h25.0M1057.5 189.5h25.0M1057.5 190.5h25.0M1153.8 190.5h25.7M1057.5 192.5h25.0M1153.8 193.5h25.7M1057.5 195.5h25.0M1057.5 196.5h25.0M1057.5 199.5h25.0M1057.5 200.5h25.0M1057.5 201.5h25.0M1057.5 202.5h25.0M1057.5 204.5h25.0M1057.5 205.5h25.0M1057.5 206.5h25.0M1153.8 206.5h25.7M1057.5 207.5h25.0M1057.5 208.5h25.0M1153.8 209.5h25.7M1057.5 210.5h25.0M1153.8 212.5h25.7M1057.5 213.5h25.0M1057.5 215.5h25.0M1057.5 216.5h25.0M1057.5 217.5h25.0M1057.5 218.5h25.0M1057.5 219.5h25.0M1153.8 220.5h25.7M1057.5 221.5h25.0M1057.5 222.5h25.0M1153.8 223.5h25.7M1153.8 224.5h25.7M1153.8 225.5h25.7M1057.5 227.5h25.0M1057.5 228.5h25.0M1153.8 228.5h25.7M1057.5 229.5h25.0M1153.8 229.5h25.7M1057.5 230.5h25.0M1153.8 230.5h25.7M1153.8 232.5h25.7M1057.5 233.5h25.0M1153.8 233.5h25.7M1153.8 235.5h25.7M1057.5 236.5h25.0M1057.5 237.5h25.0M1057.5 238.5h25.0M1153.8 238.5h25.7M1057.5 239.5h25.0M1057.5 240.5h25.0M1153.8 241.5h25.7M1057.5 242.5h25.0M1153.8 242.5h25.7M1057.5 243.5h25.0M1153.8 243.5h25.7M1057.5 244.5h25.0M1057.5 245.5h25.0M1153.8 245.5h25.7M1057.5 246.5h25.0M1057.5 247.5h25.0M1057.5 248.5h25.0M1153.8 248.5h25.7M1057.5 250.5h25.0M1153.8 250.5h25.7M1057.5 251.5h25.0M1057.5 252.5h25.0M1153.8 252.5h25.7M1057.5 253.5h25.0M1057.5 254.5h25.0M1153.8 254.5h25.7M1153.8 256.5h25.7M1153.8 257.5h25.7M1057.5 259.5h25.0M1153.8 259.5h25.7M1057.5 260.5h25.0M1057.5 261.5h25.0M1153.8 262.5h25.7M1057.5 264.5h25.0M1153.8 264.5h25.7M1057.5 265.5h25.0M1057.5 267.5h25.0M1153.8 267.5h25.7M1057.5 268.5h25.0M1153.8 269.5h25.7M1153.8 270.5h25.7M1057.5 271.5h25.0M1153.8 272.5h25.7M1057.5 273.5h25.0M1153.8 273.5h25.7M1057.5 274.5h25.0M1153.8 274.5h25.7M1153.8 275.5h25.7M1057.5 276.5h25.0M1153.8 276.5h25.7M1057.5 278.5h25.0M1153.8 278.5h25.7M1057.5 279.5h25.0M1153.8 279.5h25.7M1057.5 281.5h25.0M1153.8 281.5h25.7M1057.5 282.5h25.0M1153.8 282.5h25.7M1057.5 284.5h25.0M1153.8 284.5h25.7M1057.5 285.5h25.0M1177.3 285.5h2.2M1057.5 286.5h25.0M1153.8 289.5h25.7M1057.5 290.5h25.0M1153.8 290.5h25.7M1057.5 291.5h25.0M1153.8 291.5h25.7M1057.5 292.5h25.0M1153.8 292.5h25.7M1057.5 294.5h25.0M1057.5 295.5h25.0M1057.5 296.5h25.0M1153.8 296.5h25.7M1057.5 297.5h25.0M1057.5 298.5h25.0M1057.5 299.5h25.0M1153.8 300.5h25.7M1057.5 301.5h25.0M1057.5 302.5h25.0M1153.8 302.5h25.7M1057.5 303.5h25.0M1153.8 303.5h25.7M1057.5 305.5h25.0M1153.8 305.5h25.7M1057.5 306.5h25.0M1153.8 306.5h25.7M1057.5 307.5h25.0M1057.5 308.5h25.0M1153.8 308.5h25.7M1057.5 309.5h25.0M1153.8 309.5h25.7M1153.8 310.5h25.7M1057.5 311.5h25.0M1057.5 312.5h25.0M1153.8 312.5h25.7M1057.5 313.5h25.0M1153.8 314.5h25.7M1057.5 315.5h25.0M1057.5 316.5h25.0M1153.8 317.5h25.7M1057.5 318.5h25.0M1153.8 318.5h25.7M1057.5 319.5h25.0M1057.5 321.5h25.0M1153.8 321.5h25.7M1057.5 322.5h25.0M1153.8 322.5h25.7M1153.8 323.5h25.7M1057.5 324.5h25.0M1153.8 324.5h25.7M1153.8 325.5h25.7M1153.8 326.5h25.7M1153.8 327.5h25.7M1057.5 328.5h25.0M1153.8 328.5h25.7M1153.8 329.5h25.7M1171.3 329.5h3.5M1057.5 330.5h25.0M1057.5 331.5h25.0M1153.8 331.5h25.7M1153.8 332.5h25.7M1153.8 333.5h25.7M1057.5 335.5h25.0M1153.8 335.5h25.7M1057.5 337.5h25.0M1153.8 337.5h25.7M1057.5 338.5h25.0M1153.8 338.5h25.7M1057.5 339.5h25.0M1153.8 339.5h25.7M1057.5 341.5h25.0M1057.5 342.5h25.0M1153.8 342.5h25.7M1057.5 343.5h25.0M1073.7 343.5h6.2M1057.5 345.5h25.0M1153.8 345.5h25.7M1153.8 346.5h25.7M1153.8 347.5h25.7M1057.5 348.5h25.0M1173.0 348.5h6.5M1153.8 349.5h25.7M1057.5 350.5h25.0M1153.8 350.5h25.7M1057.5 351.5h25.0M1153.8 352.5h25.7M1057.5 353.5h25.0M1153.8 353.5h25.7M1153.8 354.5h25.7M1057.5 355.5h25.0M1153.8 355.5h25.7M1057.5 356.5h25.0M1057.5 358.5h25.0M1153.8 358.5h25.7M1153.8 359.5h25.7M1057.5 360.5h25.0M1153.8 360.5h25.7M1153.8 361.5h25.7M1057.5 363.5h25.0M1153.8 363.5h25.7M1057.5 365.5h25.0M1153.8 365.5h25.7M1153.8 367.5h25.7M1153.8 368.5h25.7M1153.8 369.5h25.7M1153.8 370.5h25.7M1153.8 371.5h25.7M1153.8 372.5h25.7M1057.5 373.5h25.0M1153.8 373.5h25.7M1153.8 374.5h25.7M1153.8 375.5h25.7M1057.5 376.5h25.0M1153.8 376.5h25.7M1057.5 378.5h25.0M1057.5 379.5h25.0M1153.8 379.5h25.7M1153.8 380.5h25.7M1057.5 381.5h25.0M1057.5 382.5h25.0M1057.5 383.5h25.0M1057.5 384.5h25.0M1073.8 384.5h8.7M1058.1 384.5h12.2M1057.5 385.5h25.0M1153.8 385.5h25.7M1057.5 386.5h25.0M1153.8 386.5h25.7M1153.8 387.5h25.7M1057.5 388.5h25.0M1057.5 389.5h25.0M1153.8 389.5h25.7M1057.5 391.5h25.0M1153.8 391.5h25.7M1153.8 392.5h25.7M1153.8 393.5h25.7M1057.5 395.5h25.0M1153.8 395.5h25.7M1153.8 397.5h25.7M1153.8 398.5h25.7M1057.5 399.5h25.0M1153.8 400.5h25.7M1057.5 401.5h25.0M1153.8 401.5h25.7M1153.8 402.5h25.7M1057.5 407.5h25.0M1153.8 407.5h25.7M1153.8 409.5h25.7M1057.5 410.5h25.0M1153.8 410.5h25.7M1153.8 411.5h25.7M1153.8 412.5h25.7M1153.8 414.5h25.7M1153.8 415.5h25.7M1153.8 416.5h25.7M1057.5 417.5h25.0M1153.8 418.5h25.7M1057.5 419.5h25.0M1153.8 419.5h25.7M1153.8 420.5h25.7M1057.5 422.5h25.0M1153.8 422.5h25.7M1057.5 423.5h25.0M1153.8 425.5h25.7M1057.5 427.5h25.0M1153.8 427.5h25.7M1057.5 428.5h25.0M1153.8 428.5h25.7M1153.8 429.5h25.7M1057.5 430.5h25.0M1153.8 430.5h25.7M1171.5 432.5h8.0M1153.8 433.5h25.7M1058.7 436.5h11.1M1153.8 436.5h25.7M1057.5 437.5h25.0M1153.8 437.5h25.7M1153.8 438.5h25.7M1057.5 440.5h25.0M1057.5 443.5h25.0M1153.8 444.5h25.7M1057.5 448.5h25.0M1153.8 449.5h25.7M1057.5 450.5h25.0M1057.5 452.5h25.0M1057.5 453.5h25.0M1153.8 453.5h25.7M1057.5 454.5h25.0M1153.8 455.5h25.7M1153.8 456.5h25.7M1175.9 456.5h3.6M1153.8 457.5h25.7M1153.8 458.5h25.7M1057.5 459.5h25.0M1073.1 460.5h9.4M1153.8 460.5h25.7M1153.8 461.5h25.7M1057.5 464.5h25.0M1153.8 467.5h25.7M1153.8 469.5h25.7M1057.5 470.5h25.0M1153.8 471.5h25.7M1153.8 473.5h25.7M1153.8 475.5h25.7M1153.8 476.5h25.7M1153.8 477.5h25.7M1170.8 478.5h8.7M1153.8 480.5h25.7M1153.8 482.5h25.7M1153.8 483.5h25.7M1153.8 484.5h25.7M1153.8 487.5h25.7M1153.8 488.5h10.5M1073.0 490.5h4.2M1153.8 491.5h25.7M1057.5 496.5h25.0M1057.5 497.5h25.0M1153.8 497.5h25.7M1057.5 498.5h25.0M1153.8 499.5h25.7M1057.5 500.5h25.0M1057.5 501.5h25.0M1074.0 502.5h8.5M1153.8 502.5h25.7M1167.7 503.5h11.8M1057.5 504.5h25.0M1153.8 507.5h25.7M1153.8 509.5h25.7M1153.8 510.5h25.7M1161.5 511.5h14.0M1057.5 514.5h25.0M1177.0 517.5h2.5M1153.8 520.5h25.7M1057.5 522.5h25.0M1057.5 525.5h25.0M1153.8 527.5h25.7M1178.0 528.5h1.5M1057.5 531.5h25.0M1153.8 532.5h25.7M1160.3 532.5h7.1M1155.1 533.5h13.2M1154.6 536.5h15.1"/><path stroke="#fff3f3" d="M1057.5 97.5h25.0M1153.8 97.5h25.7M1057.5 98.5h25.0M1153.8 98.5h25.7M1057.5 99.5h25.0M1153.8 100.5h25.7M1153.8 102.5h25.7M1057.5 104.5h25.0M1153.8 106.5h25.7M1057.5 107.5h25.0M1153.8 108.5h25.7M1057.5 110.5h25.0M1153.8 110.5h25.7M1057.5 111.5h25.0M1177.3 111.5h2.2M1153.8 112.5h25.7M1153.8 113.5h25.7M1057.5 114.5h25.0M1057.5 115.5h25.0M1153.8 120.5h25.7M1153.8 121.5h25.7M1057.5 122.5h25.0M1057.5 123.5h25.0M1160.7 123.5h5.3M1153.8 124.5h25.7M1057.5 125.5h25.0M1071.8 126.5h3.1M1153.8 126.5h25.7M1173.8 126.5h5.7M1057.5 127.5h25.0M1170.3 129.5h4.6M1057.5 130.5h25.0M1174.4 130.5h5.1M1057.5 131.5h25.0M1153.8 131.5h25.7M1057.5 132.5h25.0M1154.8 132.5h15.8M1057.5 134.5h25.0M1063.2 134.5h4.4M1057.5 136.5h25.0M1153.8 136.5h25.7M1057.5 139.5h25.0M1153.8 139.5h25.7M1057.5 140.5h25.0M1059.9 142.5h8.1M1153.8 144.5h25.7M1057.5 145.5h25.0M1153.8 145.5h25.7M1057.5 146.5h25.0M1057.5 147.5h25.0M1153.8 149.5h25.7M1057.5 150.5h25.0M1153.8 151.5h25.7M1057.5 152.5h25.0M1057.5 153.5h25.0M1057.5 154.5h25.0M1153.8 154.5h25.7M1057.5 155.5h25.0M1153.8 156.5h25.7M1158.1 156.5h9.5M1057.5 157.5h25.0M1057.5 158.5h25.0M1153.8 158.5h25.7M1057.5 159.5h25.0M1153.8 160.5h25.7M1153.8 161.5h25.7M1057.5 162.5h25.0M1153.8 163.5h25.7M1172.5 163.5h3.8M1066.7 164.5h7.5M1153.8 164.5h25.7M1057.5 165.5h25.0M1153.8 165.5h25.7M1057.5 167.5h25.0M1058.3 167.5h10.7M1153.8 167.5h25.7M1057.5 168.5h25.0M1153.8 168.5h25.7M1153.8 169.5h25.7M1057.5 170.5h25.0M1153.8 170.5h25.7M1057.5 171.5h25.0M1153.8 171.5h25.7M1057.5 172.5h25.0M1153.8 172.5h25.7M1153.8 173.5h25.7M1057.5 175.5h25.0M1075.9 175.5h4.8M1153.8 175.5h25.7M1153.8 176.5h25.7M1153.8 177.5h25.7M1153.8 178.5h25.7M1057.5 179.5h25.0M1153.8 179.5h25.7M1057.5 181.5h25.0M1153.8 181.5h25.7M1057.5 182.5h25.0M1153.8 182.5h25.7M1057.5 183.5h25.0M1153.8 183.5h25.7M1153.8 186.5h25.7M1070.2 187.5h6.9M1079.0 187.5h3.5M1153.8 187.5h25.7M1057.5 188.5h25.0M1153.8 188.5h25.7M1057.5 191.5h25.0M1153.8 192.5h25.7M1057.5 193.5h25.0M1057.5 194.5h25.0M1153.8 196.5h25.7M1057.5 197.5h25.0M1153.8 197.5h25.7M1057.5 198.5h25.0M1153.8 198.5h25.7M1153.8 199.5h25.7M1153.8 202.5h25.7M1174.4 202.5h5.1M1057.5 203.5h25.0M1153.8 203.5h25.7M1153.8 204.5h25.7M1057.5 207.5h14.8M1153.8 208.5h25.7M1057.5 209.5h25.0M1153.8 210.5h25.7M1171.1 210.5h4.9M1057.5 211.5h25.0M1057.5 212.5h25.0M1153.8 213.5h25.7M1057.5 214.5h25.0M1177.2 215.5h2.3M1153.8 216.5h25.7M1153.8 217.5h25.7M1057.5 220.5h25.0M1153.8 222.5h25.7M1154.5 222.5h4.5M1057.5 224.5h25.0M1074.7 224.5h7.2M1057.5 225.5h25.0M1057.5 226.5h25.0M1153.8 226.5h25.7M1153.8 227.5h25.7M1057.5 231.5h25.0M1153.8 231.5h25.7M1057.5 232.5h25.0M1156.9 232.5h7.8M1057.5 233.5h3.3M1058.7 233.5h13.4M1153.8 234.5h25.7M1057.5 235.5h25.0M1153.8 236.5h25.7M1153.8 237.5h25.7M1161.9 238.5h14.1M1153.8 239.5h25.7M1153.8 240.5h25.7M1153.8 243.5h2.0M1153.8 244.5h25.7M1167.2 246.5h12.3M1153.8 247.5h25.7M1159.4 247.5h13.9M1057.5 249.5h25.0M1078.5 249.5h4.0M1153.8 249.5h25.7M1158.9 249.5h12.7M1176.5 250.5h3.0M1075.0 251.5h7.5M1068.8 252.5h4.5M1057.5 255.5h25.0M1153.8 255.5h25.7M1057.5 256.5h25.0M1153.8 258.5h25.7M1072.9 261.5h8.5M1153.8 261.5h25.7M1057.5 262.5h25.0M1057.5 263.5h25.0M1153.8 265.5h25.7M1153.8 268.5h25.7M1057.5 269.5h25.0M1057.5 270.5h25.0M1071.8 270.5h10.7M1153.8 271.5h25.7M1057.5 272.5h25.0M1057.5 275.5h25.0M1060.0 276.5h9.6M1057.5 277.5h25.0M1153.8 277.5h25.7M1171.8 277.5h7.7M1155.6 279.5h4.3M1057.5 280.5h25.0M1153.8 280.5h25.7M1057.5 283.5h25.0M1153.8 283.5h25.7M1153.8 283.5h12.4M1153.8 285.5h25.7M1153.8 287.5h25.7M1153.8 288.5h25.7M1064.3 289.5h4.7M1057.5 293.5h25.0M1153.8 294.5h25.7M1154.8 296.5h11.3M1153.8 297.5h25.7M1057.5 298.5h7.2M1153.8 298.5h25.7M1057.5 300.5h25.0M1068.6 305.5h13.5M1066.1 305.5h8.0M1172.7 305.5h6.8M1153.8 307.5h25.7M1153.8 313.5h12.0M1153.8 315.5h25.7M1155.2 316.5h6.2M1153.8 320.5h25.7M1057.5 323.5h25.0M1064.4 326.5h6.4M1057.5 327.5h25.0M1160.0 329.5h13.9M1155.5 334.5h4.9M1057.5 337.5h4.9M1153.8 343.5h25.7M1067.0 347.5h13.7M1062.5 347.5h13.2M1079.5 350.5h3.0M1153.8 351.5h25.7M1067.6 353.5h4.9M1061.9 356.5h13.8M1072.2 356.5h10.3M1080.1 357.5h2.4M1057.5 361.5h25.0M1070.9 367.5h3.3M1073.3 367.5h8.1M1153.8 377.5h25.7M1161.4 379.5h7.3M1057.5 380.5h25.0M1167.0 383.5h11.0M1075.5 387.5h7.0M1064.3 391.5h8.9M1161.2 396.5h10.4M1153.8 399.5h25.7M1059.5 406.5h8.5M1169.2 408.5h8.7M1159.6 422.5h9.1M1162.8 423.5h5.8M1169.1 428.5h10.4M1074.6 431.5h7.9M1153.8 434.5h25.7M1071.6 438.5h8.3M1064.8 438.5h4.0M1057.5 441.5h13.4M1153.8 441.5h8.5M1172.4 450.5h7.1M1153.8 452.5h3.7M1177.7 457.5h1.8M1067.9 460.5h10.2M1168.5 460.5h7.0M1075.1 461.5h6.6M1169.0 473.5h10.5M1157.5 475.5h15.7M1153.8 479.5h5.9M1153.8 481.5h6.1M1154.4 482.5h14.6M1153.8 486.5h3.6M1167.3 488.5h12.2M1165.6 490.5h11.4M1057.5 492.5h5.2M1161.2 494.5h15.1M1058.5 497.5h14.0M1153.8 503.5h25.7M1080.5 505.5h2.0M1061.3 513.5h11.0M1077.3 513.5h2.5M1164.6 517.5h6.7M1076.3 527.5h4.3M1168.2 533.5h8.5"/><path stroke="#ffefef" d="M1162.6 97.5h5.5M1153.8 99.5h25.7M1080.3 100.5h2.2M1057.5 101.5h25.0M1057.5 102.5h25.0M1057.5 103.5h25.0M1153.8 103.5h25.7M1153.8 104.5h25.7M1057.5 105.5h25.0M1057.5 106.5h25.0M1057.5 108.5h25.0M1161.3 108.5h5.3M1065.3 109.5h11.4M1166.8 109.5h4.8M1153.8 111.5h25.7M1057.5 112.5h25.0M1153.8 114.5h25.7M1153.8 115.5h25.7M1057.5 117.5h25.0M1153.8 117.5h25.7M1057.5 121.5h25.0M1155.5 124.5h6.5M1070.8 125.5h9.0M1153.8 125.5h25.7M1057.5 126.5h25.0M1075.8 126.5h6.7M1066.9 127.5h13.6M1153.8 127.5h25.7M1175.3 127.5h4.2M1059.5 128.5h14.7M1153.8 128.5h25.7M1057.5 129.5h25.0M1073.6 129.5h4.9M1153.8 129.5h25.7M1153.8 132.5h25.7M1057.5 133.5h25.0M1070.7 134.5h11.8M1153.8 134.5h25.7M1153.8 135.5h25.7M1057.5 137.5h25.0M1153.8 137.5h25.7M1057.5 138.5h25.0M1078.3 138.5h4.2M1153.8 138.5h25.7M1153.8 140.5h25.7M1162.6 140.5h6.2M1153.8 141.5h25.7M1153.8 141.5h3.1M1153.8 142.5h25.7M1153.8 143.5h25.7M1165.6 143.5h6.7M1057.5 144.5h25.0M1172.8 145.5h3.0M1153.8 146.5h25.7M1153.8 147.5h25.7M1057.5 148.5h25.0M1153.8 148.5h25.7M1153.8 150.5h25.7M1057.5 151.5h25.0M1153.8 152.5h25.7M1153.8 153.5h25.7M1057.5 156.5h25.0M1057.5 160.5h25.0M1153.8 162.5h25.7M1057.5 163.5h25.0M1165.6 164.5h3.4M1058.2 170.5h9.2M1170.3 173.5h9.2M1153.8 174.5h25.7M1153.8 180.5h25.7M1161.8 186.5h15.4M1153.8 189.5h25.7M1153.8 191.5h25.7M1153.8 194.5h25.7M1153.8 195.5h25.7M1072.3 199.5h8.3M1153.8 200.5h25.7M1153.8 201.5h25.7M1153.8 205.5h25.7M1176.4 205.5h3.1M1167.1 206.5h6.8M1153.8 207.5h25.7M1153.8 211.5h25.7M1173.1 212.5h6.4M1168.9 212.5h10.6M1074.8 213.5h7.7M1163.5 213.5h14.2M1153.8 214.5h25.7M1153.8 215.5h25.7M1154.2 216.5h3.0M1166.9 217.5h10.1M1153.8 218.5h25.7M1153.8 219.5h25.7M1158.4 219.5h14.3M1062.2 220.5h7.0M1057.6 227.5h2.8M1169.6 231.5h4.0M1075.2 240.5h7.3M1061.3 240.5h10.3M1159.4 240.5h7.2M1057.5 241.5h25.0M1159.9 242.5h4.3M1057.5 244.5h6.5M1057.5 245.5h6.2M1162.1 247.5h5.3M1153.8 253.5h25.7M1065.0 257.5h6.4M1057.5 258.5h25.0M1176.9 259.5h2.6M1153.8 263.5h25.7M1173.7 271.5h5.8M1159.4 273.5h14.3M1164.9 273.5h8.9M1065.0 279.5h11.0M1153.8 282.5h7.0M1160.1 282.5h8.6M1175.6 287.5h3.9M1070.3 292.5h12.2M1167.6 292.5h11.7M1079.0 293.5h3.5M1077.5 294.5h5.0M1080.3 297.5h2.2M1171.2 303.5h6.2M1169.6 314.5h5.1M1155.1 315.5h11.4M1057.5 318.5h11.1M1057.9 319.5h14.2M1076.5 321.5h6.0M1079.1 324.5h3.4M1069.8 328.5h2.5M1169.1 329.5h10.4M1173.0 345.5h6.5M1177.1 345.5h2.4M1176.1 346.5h3.4M1163.9 364.5h6.3M1153.8 371.5h9.0M1063.8 372.5h15.3M1161.3 375.5h9.4M1175.3 380.5h4.2M1072.1 384.5h4.4M1154.7 389.5h7.4M1158.8 398.5h10.0M1153.8 402.5h6.4M1065.4 415.5h6.2M1154.7 422.5h8.3M1176.3 427.5h3.2M1057.5 431.5h2.5M1175.5 433.5h4.0M1153.8 440.5h7.0M1153.9 446.5h8.0M1057.5 447.5h6.7M1162.4 448.5h8.6M1077.5 451.5h5.0M1058.5 461.5h3.0M1066.3 464.5h9.2M1057.5 468.5h10.0M1153.8 470.5h11.2M1157.7 487.5h13.0M1068.9 489.5h12.8M1166.5 497.5h8.8M1176.9 500.5h2.6M1082.5 510.5h71.3M1082.5 512.5h71.3M1074.7 514.5h2.8M1171.9 533.5h6.2M1082.5 536.5h71.3M1153.8 536.5h5.8"/><path stroke="#ffebeb" d="M1058.9 99.5h13.5M1057.5 100.5h25.0M1173.1 102.5h6.4M1153.8 105.5h25.7M1063.5 106.5h6.2M1167.0 106.5h2.8M1062.5 107.5h10.5M1057.5 109.5h25.0M1153.8 116.5h25.7M1072.6 117.5h9.9M1062.8 118.5h7.9M1153.8 118.5h25.7M1153.8 119.5h25.7M1172.1 120.5h6.8M1153.8 120.5h2.6M1057.5 124.5h25.0M1156.8 125.5h3.6M1153.8 130.5h25.7M1176.4 131.5h3.1M1157.7 134.5h5.7M1057.5 135.5h25.0M1057.5 143.5h25.0M1066.2 143.5h12.3M1066.8 145.5h13.1M1160.0 147.5h6.5M1171.4 153.5h8.1M1154.8 153.5h11.3M1075.5 156.5h7.0M1159.2 156.5h10.9M1153.8 166.5h25.7M1057.5 169.5h25.0M1156.9 172.5h13.9M1168.9 174.5h7.4M1153.8 175.5h15.4M1154.8 176.5h15.5M1065.9 177.5h9.3M1166.1 179.5h8.1M1070.3 180.5h8.9M1163.3 183.5h14.8M1153.8 184.5h25.7M1173.3 199.5h3.8M1177.5 200.5h2.0M1173.4 208.5h6.1M1163.4 209.5h14.0M1166.8 212.5h2.7M1060.7 217.5h12.6M1155.9 220.5h3.7M1168.6 227.5h9.1M1060.8 231.5h5.9M1162.5 242.5h9.2M1155.5 249.5h8.9M1153.8 250.5h7.7M1066.1 257.5h6.6M1160.4 263.5h11.9M1164.6 267.5h14.1M1153.8 268.5h13.4M1064.9 283.5h14.6M1174.8 293.5h4.0M1164.6 294.5h6.1M1159.8 308.5h9.7M1177.6 311.5h1.9M1057.9 318.5h12.6M1162.2 322.5h15.5M1159.5 324.5h4.7M1057.5 327.5h7.4M1176.0 329.5h3.5M1062.9 338.5h4.1M1159.5 339.5h7.9M1170.0 343.5h9.5M1059.4 355.5h13.1M1060.9 358.5h13.7M1060.5 367.5h10.9M1057.5 377.5h5.8M1173.9 378.5h5.6M1153.8 381.5h3.4M1155.6 382.5h8.9M1057.5 383.5h8.0M1169.2 387.5h9.1M1073.2 395.5h5.0M1078.2 399.5h4.3M1176.8 400.5h2.7M1063.9 401.5h7.7M1064.6 413.5h13.5M1153.8 415.5h13.4M1074.2 417.5h5.4M1164.8 423.5h7.4M1169.6 424.5h5.1M1075.9 428.5h6.6M1057.5 430.5h1.9M1153.8 430.5h12.0M1161.4 432.5h7.9M1079.7 435.5h2.8M1081.0 442.5h1.5M1171.1 460.5h4.9M1057.5 461.5h4.0M1082.5 466.5h71.3M1153.8 470.5h9.5M1082.5 471.5h71.3M1174.5 474.5h5.0M1153.8 485.5h7.0M1175.1 493.5h2.6M1082.5 494.5h71.3M1082.5 498.5h71.3M1082.5 499.5h71.3M1171.3 503.5h7.2M1057.5 506.5h2.9M1082.5 513.5h71.3M1082.5 514.5h71.3M1082.5 515.5h71.3M1075.8 517.5h6.7M1169.1 517.5h10.4M1155.6 517.5h11.1M1157.1 518.5h5.1M1082.5 519.5h71.3M1082.5 521.5h71.3M1175.7 521.5h3.8M1082.5 522.5h71.3M1082.5 523.5h71.3M1082.5 525.5h71.3M1082.5 528.5h71.3M1082.5 530.5h71.3M1082.5 531.5h71.3M1082.5 532.5h71.3M1082.5 535.5h71.3M1166.4 536.5h8.2"/><path stroke="#ffe7e7" d="M1169.0 103.5h5.2M1153.8 107.5h25.7M1172.9 111.5h3.5M1173.3 112.5h6.2M1057.5 116.5h25.0M1165.0 124.5h3.1M1172.0 127.5h6.7M1155.5 130.5h10.9M1068.8 131.5h5.5M1153.8 136.5h6.4M1057.5 141.5h25.0M1057.5 146.5h9.1M1153.8 157.5h2.4M1157.5 159.5h15.1M1058.9 160.5h4.2M1161.5 165.5h7.8M1069.6 168.5h5.5M1066.0 173.5h8.9M1077.1 173.5h5.4M1160.2 178.5h4.7M1065.8 196.5h12.9M1057.5 202.5h5.1M1161.5 209.5h12.8M1060.4 215.5h7.2M1155.5 217.5h14.2M1065.6 219.5h13.0M1153.8 221.5h25.7M1073.7 224.5h5.9M1163.1 224.5h6.8M1057.5 226.5h4.5M1175.7 226.5h3.8M1170.9 233.5h8.6M1080.2 234.5h2.3M1167.1 234.5h12.4M1067.7 236.5h11.4M1170.2 240.5h9.3M1065.0 245.5h13.2M1174.1 246.5h3.2M1074.3 248.5h8.2M1060.7 258.5h10.9M1171.1 261.5h8.4M1071.8 267.5h8.0M1172.3 268.5h6.2M1164.0 284.5h12.0M1170.9 285.5h3.9M1153.8 286.5h11.8M1075.2 296.5h7.3M1077.7 300.5h4.8M1153.8 304.5h9.6M1060.4 311.5h7.1M1154.4 313.5h15.1M1173.0 315.5h6.5M1157.2 320.5h11.2M1057.5 332.5h8.8M1065.5 333.5h8.5M1067.8 344.5h11.7M1062.0 356.5h8.4M1174.9 359.5h4.6M1065.2 360.5h4.0M1061.9 363.5h3.3M1163.7 373.5h15.2M1154.9 385.5h10.5M1157.9 397.5h11.9M1076.3 404.5h6.2M1075.8 409.5h6.7M1082.5 412.5h71.3M1066.5 432.5h11.8M1068.4 433.5h3.4M1070.5 434.5h12.0M1079.4 441.5h3.1M1175.1 445.5h4.4M1153.8 448.5h4.5M1175.2 455.5h4.3M1082.5 468.5h71.3M1062.4 468.5h12.4M1082.5 469.5h71.3M1159.6 475.5h9.8M1067.1 477.5h4.6M1059.4 477.5h3.4M1082.5 479.5h71.3M1082.5 485.5h71.3M1159.2 485.5h10.7M1082.5 487.5h71.3M1082.5 489.5h71.3M1078.1 493.5h4.4M1171.4 493.5h8.1M1082.5 496.5h71.3M1082.5 497.5h71.3M1174.1 498.5h3.0M1071.6 501.5h10.9M1082.5 502.5h71.3M1082.5 505.5h71.3M1082.5 506.5h71.3M1082.5 507.5h71.3M1082.5 511.5h71.3M1082.5 517.5h71.3M1082.5 518.5h71.3M1082.5 520.5h71.3M1082.5 524.5h71.3M1082.5 527.5h71.3M1082.5 529.5h71.3M1082.5 534.5h71.3M1076.7 535.5h5.8M1077.4 535.5h5.1M1157.2 536.5h7.5M1161.9 536.5h4.1"/><path stroke="#ffe3e3" d="M1173.2 99.5h6.3M1075.9 101.5h6.6M1161.5 108.5h10.5M1168.7 109.5h10.8M1070.3 119.5h4.1M1170.8 121.5h8.7M1075.7 123.5h6.8M1059.7 124.5h13.7M1079.1 129.5h3.4M1164.9 129.5h5.1M1153.8 134.5h8.6M1069.7 136.5h7.5M1165.0 140.5h5.9M1174.2 155.5h5.3M1063.4 159.5h14.5M1153.8 160.5h6.8M1070.8 167.5h10.3M1175.5 167.5h4.0M1156.2 167.5h4.9M1063.0 168.5h5.4M1158.4 177.5h15.7M1169.6 178.5h9.8M1156.6 181.5h13.8M1172.9 185.5h6.6M1168.7 194.5h2.7M1156.1 195.5h7.5M1060.2 197.5h2.7M1168.5 197.5h11.0M1154.7 200.5h9.9M1059.5 204.5h4.1M1070.9 215.5h3.5M1076.1 218.5h6.4M1157.6 218.5h9.3M1153.8 221.5h6.1M1165.8 228.5h4.5M1060.1 233.5h11.8M1057.5 236.5h2.1M1061.7 243.5h10.5M1154.3 243.5h6.2M1153.8 245.5h11.6M1070.2 258.5h12.3M1066.9 261.5h12.7M1064.8 269.5h15.3M1161.4 269.5h8.2M1071.2 280.5h11.3M1159.5 281.5h8.7M1172.4 282.5h4.1M1064.3 290.5h11.7M1067.0 292.5h12.3M1063.6 295.5h15.6M1153.8 302.5h4.4M1158.9 304.5h15.7M1153.8 306.5h10.8M1062.3 308.5h12.5M1066.0 311.5h8.7M1176.8 316.5h2.7M1062.9 321.5h5.5M1176.9 328.5h2.6M1153.8 333.5h12.2M1057.5 334.5h6.2M1072.0 339.5h10.5M1153.8 350.5h12.0M1169.5 355.5h10.0M1057.5 356.5h10.4M1166.7 362.5h9.6M1061.1 363.5h10.2M1074.9 368.5h3.5M1065.9 370.5h6.3M1175.0 372.5h4.0M1059.9 373.5h4.4M1154.4 373.5h14.3M1159.2 374.5h14.4M1155.3 374.5h3.1M1079.1 376.5h3.4M1168.8 390.5h10.7M1153.8 403.5h7.5M1174.9 414.5h4.6M1168.8 416.5h3.9M1070.5 418.5h12.0M1159.5 421.5h9.2M1082.5 427.5h71.3M1080.6 433.5h1.9M1082.5 434.5h71.3M1154.6 435.5h6.3M1168.2 437.5h11.2M1155.4 438.5h14.6M1063.3 440.5h3.0M1082.5 444.5h71.3M1168.0 445.5h7.2M1082.5 447.5h71.3M1082.5 454.5h71.3M1057.5 454.5h10.7M1082.5 457.5h71.3M1155.3 457.5h12.6M1082.5 458.5h71.3M1082.5 459.5h71.3M1155.2 459.5h12.5M1174.6 459.5h4.9M1082.5 461.5h71.3M1166.3 461.5h9.0M1154.6 462.5h10.2M1082.5 463.5h71.3M1082.5 464.5h71.3M1082.5 470.5h71.3M1082.5 472.5h71.3M1057.5 472.5h3.5M1082.5 474.5h71.3M1078.5 474.5h4.0M1072.2 474.5h8.0M1082.5 475.5h71.3M1082.5 478.5h71.3M1079.8 479.5h2.7M1163.4 481.5h14.8M1082.5 482.5h71.3M1082.5 483.5h71.3M1082.5 484.5h71.3M1082.5 486.5h71.3M1082.5 488.5h71.3M1154.8 490.5h9.8M1082.5 492.5h71.3M1082.5 493.5h71.3M1058.5 497.5h14.6M1082.5 500.5h71.3M1082.5 501.5h71.3M1082.5 503.5h71.3M1072.4 503.5h6.2M1082.5 504.5h71.3M1066.6 505.5h5.1M1082.5 508.5h71.3M1082.5 509.5h71.3M1169.5 512.5h8.0M1072.7 525.5h7.8M1082.5 526.5h71.3M1082.5 533.5h71.3"/><path stroke="#ffdfdf" d="M1058.4 99.5h5.0M1160.2 99.5h7.0M1068.0 104.5h10.0M1158.0 104.5h10.7M1072.2 106.5h7.8M1062.7 118.5h2.6M1170.4 119.5h9.1M1064.8 125.5h2.8M1156.8 131.5h11.8M1071.8 135.5h10.7M1072.3 135.5h10.2M1153.9 138.5h13.1M1062.6 142.5h12.8M1174.8 143.5h3.3M1173.8 148.5h5.7M1062.3 149.5h12.7M1064.4 152.5h9.2M1067.4 158.5h15.1M1175.2 167.5h4.3M1063.5 179.5h14.5M1065.8 179.5h3.1M1057.5 187.5h7.8M1174.3 192.5h5.2M1071.8 206.5h4.4M1172.2 206.5h7.3M1163.3 217.5h3.3M1074.9 221.5h7.6M1070.9 222.5h11.6M1170.8 234.5h5.3M1171.2 237.5h8.3M1073.5 239.5h9.0M1076.0 240.5h6.5M1071.2 249.5h3.1M1057.5 266.5h5.1M1169.7 283.5h3.8M1073.1 288.5h9.4M1168.6 289.5h10.9M1167.1 290.5h4.7M1173.3 295.5h6.2M1068.5 299.5h14.0M1075.6 302.5h6.9M1057.5 303.5h5.1M1073.0 303.5h2.9M1154.3 309.5h8.4M1057.5 310.5h2.9M1155.7 317.5h12.8M1066.6 325.5h7.7M1075.2 352.5h7.3M1153.9 354.5h8.9M1082.5 368.5h71.3M1163.8 368.5h5.8M1159.4 372.5h13.3M1169.4 372.5h7.1M1153.8 386.5h4.6M1074.8 396.5h4.0M1080.9 399.5h1.6M1062.7 400.5h15.9M1153.8 401.5h8.3M1062.4 402.5h7.3M1082.5 404.5h71.3M1082.5 417.5h71.3M1057.7 417.5h14.0M1168.7 419.5h2.6M1177.2 425.5h2.3M1082.5 432.5h71.3M1064.5 436.5h13.1M1082.5 439.5h71.3M1161.6 439.5h7.8M1082.5 440.5h71.3M1082.5 441.5h71.3M1062.2 442.5h13.4M1082.5 445.5h71.3M1082.5 446.5h71.3M1082.5 449.5h71.3M1168.2 449.5h11.1M1082.5 450.5h71.3M1082.5 451.5h71.3M1071.0 451.5h11.5M1082.5 453.5h71.3M1082.5 455.5h71.3M1082.5 456.5h71.3M1164.0 459.5h12.6M1153.8 460.5h9.0M1062.3 461.5h11.5M1075.1 465.5h7.4M1082.5 467.5h71.3M1060.3 467.5h6.0M1082.5 473.5h71.3M1082.5 477.5h71.3M1082.5 480.5h71.3M1067.3 481.5h2.5M1163.5 481.5h12.2M1166.0 483.5h10.1M1172.7 486.5h6.8M1174.4 486.5h5.1M1082.5 490.5h71.3M1082.5 491.5h71.3M1082.5 495.5h71.3M1174.1 495.5h5.4M1082.5 516.5h71.3"/><path stroke="#ffdbdb" d="M1153.8 108.5h10.8M1064.3 109.5h13.8M1167.2 132.5h4.9M1166.6 132.5h12.9M1154.0 133.5h11.9M1057.5 135.5h13.8M1064.5 136.5h9.3M1167.6 137.5h11.9M1070.6 138.5h11.9M1057.5 141.5h14.0M1061.4 147.5h3.2M1154.4 150.5h12.0M1057.9 159.5h9.3M1159.3 160.5h4.2M1174.2 163.5h5.3M1175.9 170.5h3.6M1153.8 186.5h11.9M1168.4 189.5h10.1M1157.0 189.5h14.8M1169.3 193.5h2.6M1166.9 196.5h11.1M1164.0 199.5h7.9M1075.4 200.5h5.0M1062.8 202.5h12.5M1155.6 204.5h15.2M1069.3 216.5h12.1M1057.5 216.5h14.8M1080.4 216.5h2.1M1065.9 222.5h11.2M1177.0 224.5h2.5M1163.8 232.5h4.5M1165.5 232.5h6.5M1157.1 232.5h7.4M1079.5 235.5h3.0M1077.2 236.5h3.0M1057.5 243.5h9.6M1165.5 245.5h5.0M1080.2 250.5h2.3M1058.0 258.5h14.0M1160.4 260.5h8.6M1073.4 273.5h5.0M1064.9 282.5h12.1M1153.8 287.5h13.2M1156.8 299.5h2.8M1060.6 301.5h4.6M1168.9 302.5h10.6M1162.2 308.5h3.5M1171.4 317.5h8.1M1153.8 318.5h11.9M1066.2 323.5h8.7M1153.8 325.5h11.6M1169.5 335.5h10.0M1057.5 336.5h14.7M1175.7 336.5h3.8M1170.1 338.5h9.4M1061.6 341.5h12.7M1154.6 346.5h5.9M1057.8 355.5h14.7M1177.8 359.5h1.7M1164.5 361.5h9.7M1077.8 367.5h4.7M1174.8 376.5h3.0M1082.5 379.5h71.3M1063.2 380.5h12.0M1174.5 382.5h5.0M1082.5 383.5h71.3M1175.4 385.5h4.1M1082.5 392.5h71.3M1082.5 396.5h71.3M1159.3 396.5h6.7M1082.5 397.5h71.3M1154.8 399.5h15.0M1070.5 403.5h5.1M1082.5 407.5h71.3M1082.5 408.5h71.3M1158.2 408.5h8.5M1082.5 413.5h71.3M1082.5 416.5h71.3M1067.5 416.5h15.0M1082.5 418.5h71.3M1082.5 419.5h71.3M1057.5 419.5h8.8M1153.8 420.5h13.2M1082.5 424.5h71.3M1082.5 426.5h71.3M1169.9 428.5h9.6M1153.8 428.5h2.5M1157.4 428.5h7.0M1082.5 430.5h71.3M1167.5 430.5h12.0M1071.0 432.5h5.6M1154.9 432.5h5.1M1082.5 433.5h71.3M1068.6 433.5h11.1M1155.9 434.5h8.7M1082.5 436.5h71.3M1082.5 438.5h71.3M1082.5 442.5h71.3M1082.5 443.5h71.3M1082.5 448.5h71.3M1082.5 460.5h71.3M1082.5 462.5h71.3M1082.5 465.5h71.3M1060.2 466.5h12.5M1082.5 476.5h71.3M1082.5 481.5h71.3"/><path stroke="#ffd7d7" d="M1155.2 97.5h4.3M1169.8 97.5h3.7M1169.2 101.5h10.3M1066.4 103.5h10.1M1160.7 104.5h7.1M1168.7 108.5h6.8M1070.6 109.5h9.7M1057.5 122.5h8.4M1059.7 128.5h9.4M1067.9 136.5h9.5M1160.5 136.5h7.3M1068.2 138.5h13.7M1078.1 141.5h4.4M1167.5 143.5h7.5M1177.4 145.5h2.1M1163.7 155.5h9.5M1077.8 156.5h4.7M1057.5 160.5h4.3M1078.4 161.5h4.1M1163.6 161.5h7.4M1080.6 163.5h1.9M1174.3 172.5h5.2M1067.5 173.5h13.1M1161.3 177.5h7.0M1168.4 177.5h6.3M1057.5 178.5h15.4M1057.5 182.5h7.8M1156.2 187.5h9.4M1158.4 191.5h5.9M1069.7 216.5h6.8M1068.2 228.5h13.0M1079.4 232.5h3.1M1153.8 248.5h8.5M1068.8 253.5h11.7M1154.3 255.5h3.3M1176.2 260.5h3.3M1164.7 266.5h3.5M1155.2 277.5h2.9M1077.4 279.5h3.2M1057.5 280.5h7.4M1169.2 284.5h4.0M1073.8 286.5h8.7M1075.7 286.5h3.1M1160.5 293.5h14.5M1063.8 295.5h10.9M1075.1 300.5h7.4M1070.7 302.5h11.8M1066.3 305.5h4.0M1153.8 307.5h10.8M1057.5 316.5h6.1M1077.2 318.5h5.3M1082.5 319.5h71.3M1058.3 328.5h15.5M1071.7 328.5h7.5M1057.5 328.5h5.4M1177.5 336.5h2.0M1058.1 339.5h14.6M1069.1 344.5h10.4M1164.6 355.5h10.6M1082.5 359.5h71.3M1082.5 361.5h71.3M1162.5 362.5h4.3M1163.1 369.5h8.0M1175.7 380.5h3.8M1082.5 385.5h71.3M1082.5 386.5h71.3M1077.7 396.5h4.8M1168.9 402.5h8.8M1166.5 402.5h6.4M1082.5 403.5h71.3M1171.7 404.5h7.8M1082.5 405.5h71.3M1082.5 406.5h71.3M1082.5 411.5h71.3M1082.5 414.5h71.3M1153.8 415.5h12.6M1171.5 420.5h6.5M1082.5 421.5h71.3M1082.5 423.5h71.3M1082.5 425.5h71.3M1082.5 429.5h71.3M1082.5 435.5h71.3M1082.5 452.5h71.3"/><path stroke="#ffd3d3" d="M1153.8 98.5h5.2M1153.8 100.5h3.2M1076.9 105.5h5.6M1153.8 109.5h2.0M1070.2 110.5h12.3M1061.3 110.5h6.1M1161.9 116.5h3.7M1076.2 122.5h6.3M1065.9 130.5h13.5M1069.2 132.5h8.3M1153.8 142.5h12.5M1170.5 145.5h7.8M1080.6 147.5h1.9M1166.3 147.5h5.3M1059.9 149.5h6.0M1172.4 157.5h7.1M1058.1 158.5h9.6M1066.3 160.5h11.9M1169.9 161.5h9.6M1074.3 170.5h7.4M1154.5 176.5h15.3M1153.8 176.5h6.8M1080.5 179.5h2.0M1172.1 180.5h7.4M1065.9 181.5h3.3M1153.8 184.5h10.7M1080.2 185.5h2.3M1058.4 186.5h13.4M1173.0 188.5h6.5M1163.1 193.5h3.2M1176.3 199.5h3.2M1172.3 207.5h3.5M1177.7 216.5h1.8M1065.0 219.5h9.0M1161.3 219.5h3.7M1160.0 221.5h10.2M1073.9 222.5h7.6M1161.4 231.5h15.6M1167.6 233.5h8.2M1073.1 234.5h9.4M1155.2 239.5h15.2M1175.5 245.5h4.0M1066.7 249.5h3.9M1060.9 252.5h12.5M1057.5 265.5h9.5M1064.1 269.5h3.9M1155.9 269.5h13.1M1160.0 273.5h15.2M1076.9 275.5h5.6M1071.1 275.5h10.0M1059.5 297.5h8.3M1160.8 299.5h13.6M1174.9 300.5h4.6M1073.5 309.5h9.0M1164.3 312.5h14.5M1166.8 313.5h10.6M1176.2 315.5h3.3M1175.9 323.5h3.6M1156.7 327.5h4.8M1159.1 328.5h7.6M1074.8 340.5h7.7M1161.4 344.5h9.7M1168.4 358.5h8.5M1077.9 362.5h4.6M1082.5 366.5h71.3M1082.5 373.5h71.3M1082.5 376.5h71.3M1073.5 377.5h5.9M1082.5 380.5h71.3M1172.0 381.5h7.5M1082.5 394.5h71.3M1082.5 409.5h71.3M1082.5 422.5h71.3M1082.5 428.5h71.3M1082.5 431.5h71.3M1082.5 437.5h71.3"/><path stroke="#ffcfcf" d="M1171.7 99.5h6.6M1159.2 102.5h11.0M1072.4 104.5h9.0M1163.3 104.5h13.5M1171.2 108.5h8.3M1164.3 109.5h10.4M1172.1 110.5h2.8M1061.0 111.5h9.4M1171.2 111.5h8.3M1063.2 112.5h13.3M1164.9 113.5h9.6M1058.2 123.5h9.6M1158.6 126.5h7.9M1057.5 128.5h2.5M1061.7 133.5h3.7M1155.7 135.5h12.2M1066.8 144.5h9.8M1176.4 144.5h3.1M1163.9 145.5h14.7M1068.2 150.5h13.5M1075.1 151.5h4.9M1058.1 152.5h7.8M1078.1 159.5h4.4M1062.9 163.5h15.5M1176.7 166.5h2.5M1170.9 169.5h7.9M1173.4 171.5h6.1M1162.3 174.5h9.5M1057.7 177.5h10.7M1070.7 178.5h9.7M1161.3 182.5h9.0M1165.1 191.5h7.0M1064.4 194.5h14.2M1072.8 196.5h9.7M1153.8 196.5h6.7M1075.8 199.5h6.7M1159.1 199.5h5.5M1157.6 201.5h14.9M1057.5 206.5h2.1M1162.2 207.5h3.7M1154.8 210.5h4.0M1157.4 213.5h12.4M1068.1 232.5h7.5M1155.2 234.5h13.4M1069.8 235.5h12.7M1062.7 236.5h5.4M1078.9 241.5h3.5M1176.2 244.5h3.3M1177.8 257.5h1.7M1074.7 273.5h7.8M1157.2 296.5h3.8M1159.3 300.5h6.2M1064.5 306.5h12.1M1061.5 312.5h3.3M1065.1 312.5h15.6M1060.2 318.5h6.3M1080.1 319.5h2.4M1160.1 328.5h14.9M1153.8 331.5h13.2M1068.2 332.5h13.4M1082.5 336.5h71.3M1177.9 336.5h1.6M1161.0 337.5h13.6M1068.0 338.5h13.6M1082.5 339.5h71.3M1075.9 342.5h6.6M1082.5 343.5h71.3M1082.5 350.5h71.3M1082.5 352.5h71.3M1082.5 354.5h71.3M1082.5 355.5h71.3M1082.5 360.5h71.3M1082.5 367.5h71.3M1082.5 370.5h71.3M1082.5 371.5h71.3M1082.5 384.5h71.3M1082.5 387.5h71.3M1082.5 388.5h71.3M1082.5 389.5h71.3M1082.5 390.5h71.3M1082.5 393.5h71.3M1082.5 395.5h71.3M1082.5 399.5h71.3M1082.5 415.5h71.3M1082.5 420.5h71.3"/><path stroke="#ffcbcb" d="M1168.4 98.5h10.5M1078.7 106.5h3.6M1076.1 107.5h6.4M1158.7 107.5h8.3M1079.8 111.5h2.7M1080.3 113.5h2.2M1161.2 116.5h13.2M1074.7 117.5h7.8M1079.5 117.5h3.0M1167.3 117.5h11.1M1153.8 119.5h4.5M1174.8 122.5h4.7M1177.3 127.5h2.2M1066.1 130.5h3.5M1176.9 130.5h2.6M1153.8 134.5h2.3M1169.0 135.5h6.1M1057.9 136.5h9.4M1071.5 136.5h11.0M1060.0 140.5h15.6M1068.1 146.5h8.4M1158.6 150.5h4.5M1070.5 152.5h6.3M1060.1 153.5h5.7M1165.2 157.5h8.8M1176.9 160.5h2.6M1069.5 161.5h12.9M1159.3 167.5h12.2M1067.7 172.5h13.6M1177.6 185.5h1.9M1168.2 186.5h8.2M1072.7 193.5h4.1M1164.1 195.5h4.5M1076.5 208.5h6.0M1160.8 212.5h5.1M1079.9 214.5h2.6M1075.3 220.5h3.9M1164.3 220.5h9.9M1162.6 233.5h4.8M1079.4 237.5h3.1M1164.1 238.5h11.0M1059.3 242.5h9.8M1160.0 243.5h5.1M1075.7 248.5h6.8M1063.4 251.5h14.1M1061.6 255.5h14.5M1162.1 256.5h10.0M1058.7 258.5h4.8M1173.1 259.5h6.4M1065.3 264.5h9.2M1172.8 265.5h6.7M1153.8 268.5h3.2M1063.0 271.5h11.1M1161.4 271.5h8.6M1162.2 273.5h4.7M1174.0 273.5h4.7M1156.4 273.5h11.4M1070.7 274.5h11.8M1065.8 280.5h11.0M1057.8 288.5h12.1M1155.4 295.5h9.0M1161.5 296.5h10.4M1162.1 306.5h6.6M1162.3 308.5h4.1M1167.0 312.5h12.5M1082.5 318.5h71.3M1082.5 329.5h71.3M1082.5 333.5h71.3M1082.5 338.5h71.3M1082.5 351.5h71.3M1082.5 353.5h71.3M1082.5 365.5h71.3M1082.5 375.5h71.3M1082.5 381.5h71.3M1082.5 400.5h71.3M1082.5 401.5h71.3M1082.5 410.5h71.3"/><path stroke="#ffc7c7" d="M1165.9 98.5h7.5M1171.7 104.5h7.8M1154.1 110.5h14.7M1153.8 111.5h3.2M1159.0 112.5h3.6M1154.0 119.5h15.8M1162.7 121.5h12.6M1068.8 130.5h10.3M1058.5 132.5h13.6M1080.9 134.5h1.6M1160.0 134.5h10.5M1065.6 136.5h7.6M1057.5 150.5h6.2M1058.3 155.5h13.5M1154.6 155.5h2.9M1057.5 157.5h11.5M1172.4 159.5h7.1M1162.7 164.5h5.0M1174.6 165.5h4.9M1157.3 168.5h4.4M1153.8 177.5h5.5M1071.8 179.5h5.7M1058.6 183.5h7.5M1072.9 185.5h9.6M1079.7 187.5h2.8M1079.4 188.5h3.1M1166.3 189.5h7.4M1062.9 193.5h13.0M1176.6 193.5h2.9M1166.0 195.5h11.3M1065.9 204.5h4.4M1065.5 211.5h12.6M1155.0 212.5h14.2M1058.6 214.5h5.1M1074.5 215.5h8.0M1076.1 225.5h6.4M1057.5 231.5h10.5M1060.0 234.5h8.1M1170.8 234.5h8.7M1163.4 237.5h15.0M1172.1 245.5h7.4M1154.3 246.5h15.5M1079.0 249.5h3.5M1153.8 253.5h7.5M1080.9 257.5h1.6M1157.0 266.5h8.5M1076.3 268.5h6.2M1067.2 271.5h3.1M1067.5 273.5h6.3M1066.9 274.5h8.8M1070.0 289.5h7.9M1082.5 302.5h71.3M1082.5 322.5h71.3M1082.5 324.5h71.3M1082.5 327.5h71.3M1082.5 335.5h71.3M1082.5 337.5h71.3M1082.5 340.5h71.3M1082.5 341.5h71.3M1082.5 342.5h71.3M1082.5 344.5h71.3M1082.5 345.5h71.3M1082.5 363.5h71.3M1082.5 369.5h71.3M1082.5 377.5h71.3M1082.5 378.5h71.3M1082.5 391.5h71.3M1082.5 402.5h71.3"/><path stroke="#ffc3c3" d="M1160.0 98.5h15.6M1064.8 102.5h6.5M1057.5 106.5h12.3M1160.5 108.5h4.2M1080.5 114.5h2.0M1167.8 115.5h10.1M1066.3 116.5h12.5M1173.8 121.5h5.7M1060.9 125.5h14.2M1057.5 129.5h11.6M1075.6 130.5h5.0M1159.4 130.5h14.6M1169.6 133.5h7.7M1067.0 137.5h6.0M1168.9 137.5h10.6M1177.5 140.5h2.0M1165.2 150.5h7.7M1057.5 153.5h7.6M1079.8 163.5h2.7M1158.1 181.5h5.7M1057.5 187.5h5.6M1170.9 189.5h8.4M1158.7 198.5h13.6M1064.7 202.5h11.3M1078.5 203.5h4.0M1173.0 204.5h6.5M1071.0 214.5h2.6M1176.5 221.5h3.0M1057.5 244.5h6.7M1171.1 244.5h3.6M1177.5 248.5h2.0M1161.8 262.5h9.5M1082.5 273.5h71.3M1082.5 309.5h71.3M1082.5 316.5h71.3M1082.5 320.5h71.3M1082.5 325.5h71.3M1082.5 357.5h71.3M1082.5 364.5h71.3M1082.5 372.5h71.3M1082.5 374.5h71.3M1082.5 382.5h71.3M1082.5 398.5h71.3"/><path stroke="#ffbfbf" d="M1153.8 99.5h5.0M1057.5 100.5h4.8M1080.3 100.5h2.2M1175.0 101.5h4.5M1057.5 106.5h8.2M1161.9 108.5h6.8M1057.5 111.5h14.6M1057.5 111.5h1.8M1161.5 112.5h14.7M1172.4 113.5h7.1M1166.7 113.5h6.1M1057.5 117.5h11.9M1078.6 122.5h3.9M1076.5 127.5h6.0M1162.7 130.5h10.2M1075.2 136.5h7.1M1075.0 141.5h7.2M1160.5 143.5h10.4M1162.7 146.5h7.0M1080.1 147.5h2.4M1159.6 147.5h9.9M1170.9 156.5h8.6M1161.2 156.5h12.8M1173.6 163.5h5.9M1174.9 165.5h4.6M1077.8 179.5h4.7M1159.0 191.5h10.6M1167.2 195.5h7.0M1057.5 196.5h4.6M1059.0 208.5h9.2M1073.3 219.5h9.2M1082.5 288.5h71.3M1082.5 292.5h71.3M1082.5 293.5h71.3M1082.5 296.5h71.3M1082.5 301.5h71.3M1082.5 305.5h71.3M1082.5 308.5h71.3M1082.5 332.5h71.3M1082.5 349.5h71.3M1082.5 356.5h71.3M1082.5 362.5h71.3"/><path stroke="#ffbbbb" d="M1153.8 103.5h13.1M1057.5 104.5h13.0M1162.3 105.5h10.1M1071.3 111.5h11.2M1176.6 113.5h2.9M1160.2 114.5h5.8M1159.7 118.5h9.1M1157.0 119.5h11.9M1153.8 122.5h2.1M1155.2 124.5h4.9M1154.2 129.5h13.0M1064.2 133.5h12.3M1164.3 135.5h13.8M1057.5 140.5h4.5M1057.5 143.5h11.0M1163.2 152.5h9.3M1153.8 154.5h7.2M1153.8 157.5h2.6M1076.2 160.5h6.3M1160.3 162.5h3.7M1068.5 165.5h9.5M1158.3 166.5h6.7M1177.5 171.5h2.0M1082.5 283.5h71.3M1082.5 289.5h71.3M1082.5 299.5h71.3M1082.5 303.5h71.3M1082.5 304.5h71.3M1082.5 313.5h71.3M1082.5 314.5h71.3M1082.5 317.5h71.3M1082.5 326.5h71.3M1082.5 347.5h71.3M1082.5 348.5h71.3M1082.5 358.5h71.3"/><path stroke="#ffb7b7" d="M1176.1 100.5h3.4M1156.8 102.5h13.8M1158.3 104.5h7.2M1080.3 106.5h2.2M1074.0 108.5h8.5M1063.0 110.5h5.2M1158.1 110.5h13.2M1164.5 117.5h9.7M1169.2 119.5h10.3M1176.8 129.5h2.7M1065.4 133.5h2.8M1082.5 240.5h71.3M1082.5 272.5h71.3M1082.5 280.5h71.3M1082.5 285.5h71.3M1082.5 286.5h71.3M1082.5 294.5h71.3M1082.5 307.5h71.3M1082.5 310.5h71.3M1082.5 311.5h71.3M1082.5 323.5h71.3M1082.5 330.5h71.3M1082.5 331.5h71.3M1082.5 346.5h71.3"/><path stroke="#ffb3b3" d="M1068.3 100.5h14.2M1063.0 100.5h12.6M1077.9 108.5h4.6M1078.8 109.5h3.7M1069.8 115.5h3.0M1082.5 263.5h71.3M1082.5 274.5h71.3M1082.5 282.5h71.3M1082.5 290.5h71.3M1082.5 298.5h71.3M1082.5 300.5h71.3"/><path stroke="#ffafaf" d="M1082.5 250.5h71.3M1082.5 253.5h71.3M1082.5 276.5h71.3M1082.5 284.5h71.3M1082.5 287.5h71.3M1082.5 295.5h71.3"/><path stroke="#ffabab" d="M1082.5 249.5h71.3M1082.5 261.5h71.3M1082.5 277.5h71.3M1082.5 279.5h71.3M1082.5 315.5h71.3M1082.5 328.5h71.3M1082.5 334.5h71.3"/><path stroke="#ffa7a7" d="M1082.5 233.5h71.3M1082.5 244.5h71.3M1082.5 312.5h71.3M1082.5 321.5h71.3"/><path stroke="#ffa3a3" d="M1082.5 265.5h71.3M1082.5 267.5h71.3"/><path stroke="#ff9f9f" d="M1082.5 214.5h71.3M1082.5 241.5h71.3M1082.5 262.5h71.3M1082.5 271.5h71.3M1082.5 278.5h71.3M1082.5 281.5h71.3M1082.5 306.5h71.3"/><path stroke="#ff9b9b" d="M1082.5 202.5h71.3M1082.5 232.5h71.3M1082.5 238.5h71.3M1082.5 270.5h71.3M1082.5 291.5h71.3M1082.5 297.5h71.3"/><path stroke="#ff9797" d="M1082.5 194.5h71.3M1082.5 239.5h71.3M1082.5 242.5h71.3M1082.5 252.5h71.3M1082.5 255.5h71.3M1082.5 258.5h71.3M1082.5 266.5h71.3M1082.5 268.5h71.3"/><path stroke="#ff9393" d="M1082.5 176.5h71.3M1082.5 195.5h71.3M1082.5 203.5h71.3M1082.5 234.5h71.3M1082.5 259.5h71.3M1082.5 260.5h71.3"/><path stroke="#ff8f8f" d="M1082.5 156.5h71.3M1082.5 208.5h71.3M1082.5 215.5h71.3M1082.5 223.5h71.3M1082.5 236.5h71.3M1082.5 237.5h71.3M1082.5 246.5h71.3M1082.5 254.5h71.3M1082.5 256.5h71.3"/><path stroke="#ff8b8b" d="M1082.5 159.5h71.3M1082.5 161.5h71.3M1082.5 219.5h71.3M1082.5 264.5h71.3M1082.5 275.5h71.3"/><path stroke="#ff8787" d="M1082.5 163.5h71.3M1082.5 188.5h71.3M1082.5 192.5h71.3M1082.5 231.5h71.3M1082.5 248.5h71.3M1082.5 257.5h71.3"/><path stroke="#ff8383" d="M1082.5 182.5h71.3M1082.5 189.5h71.3M1082.5 213.5h71.3M1082.5 218.5h71.3M1082.5 220.5h71.3M1082.5 222.5h71.3M1082.5 228.5h71.3M1082.5 269.5h71.3"/><path stroke="#ff8080" d="M1082.5 207.5h71.3M1082.5 211.5h71.3M1082.5 226.5h71.3M1082.5 247.5h71.3"/><path stroke="#ff7c7c" d="M1082.5 197.5h71.3M1082.5 200.5h71.3M1082.5 225.5h71.3"/><path stroke="#ff7878" d="M1082.5 199.5h71.3M1082.5 217.5h71.3M1082.5 224.5h71.3M1082.5 230.5h71.3M1082.5 251.5h71.3"/><path stroke="#ff7474" d="M1082.5 144.5h71.3M1082.5 150.5h71.3M1082.5 179.5h71.3"/><path stroke="#ff7070" d="M1082.5 162.5h71.3M1082.5 198.5h71.3M1082.5 206.5h71.3M1082.5 212.5h71.3"/><path stroke="#ff6c6c" d="M1082.5 169.5h71.3M1082.5 201.5h71.3M1082.5 235.5h71.3M1082.5 243.5h71.3M1082.5 245.5h71.3"/><path stroke="#ff6868" d="M1082.5 141.5h71.3M1082.5 145.5h71.3M1082.5 187.5h71.3M1082.5 205.5h71.3M1082.5 216.5h71.3"/><path stroke="#ff6464" d="M1082.5 128.5h71.3M1082.5 181.5h71.3M1082.5 183.5h71.3M1082.5 227.5h71.3"/><path stroke="#ff6060" d="M1082.5 221.5h71.3"/><path stroke="#ff5c5c" d="M1082.5 121.5h71.3M1082.5 136.5h71.3M1082.5 143.5h71.3M1082.5 168.5h71.3M1082.5 178.5h71.3M1082.5 229.5h71.3"/><path stroke="#ff5858" d="M1082.5 166.5h71.3"/><path stroke="#ff5454" d="M1082.5 173.5h71.3M1082.5 193.5h71.3M1082.5 204.5h71.3"/><path stroke="#ff5050" d="M1082.5 172.5h71.3M1082.5 185.5h71.3M1082.5 210.5h71.3"/><path stroke="#ff4c4c" d="M1082.5 116.5h71.3M1082.5 153.5h71.3M1082.5 184.5h71.3"/><path stroke="#ff4848" d="M1082.5 174.5h71.3M1082.5 186.5h71.3M1082.5 209.5h71.3"/><path stroke="#ff4444" d="M1082.5 157.5h71.3M1082.5 160.5h71.3"/><path stroke="#ff4040" d="M1082.5 134.5h71.3M1082.5 171.5h71.3"/><path stroke="#ff3c3c" d="M1082.5 149.5h71.3"/><path stroke="#ff3838" d="M1082.5 117.5h71.3M1082.5 191.5h71.3M1082.5 196.5h71.3"/><path stroke="#ff3434" d="M1082.5 152.5h71.3M1082.5 158.5h71.3M1082.5 177.5h71.3"/><path stroke="#ff3030" d="M1082.5 190.5h71.3"/><path stroke="#ff2c2c" d="M1082.5 122.5h71.3"/><path stroke="#ff2828" d="M1082.5 148.5h71.3M1082.5 167.5h71.3"/><path stroke="#ff2424" d="M1082.5 154.5h71.3M1082.5 170.5h71.3M1082.5 180.5h71.3"/><path stroke="#ff2020" d="M1082.5 132.5h71.3"/><path stroke="#ff1c1c" d="M1082.5 115.5h71.3M1082.5 123.5h71.3M1082.5 138.5h71.3M1082.5 151.5h71.3M1082.5 164.5h71.3M1082.5 175.5h71.3"/><path stroke="#ff1818" d="M1082.5 129.5h71.3M1082.5 139.5h71.3M1082.5 140.5h71.3"/><path stroke="#ff1010" d="M1082.5 135.5h71.3M1082.5 137.5h71.3M1082.5 165.5h71.3"/><path stroke="#ff0c0c" d="M1082.5 118.5h71.3M1082.5 125.5h71.3"/><path stroke="#f60404" d="M1082.5 120.5h71.3"/><path stroke="#f60000" d="M1082.5 97.5h71.3M1082.5 98.5h71.3M1082.5 99.5h71.3M1082.5 100.5h71.3M1082.5 101.5h71.3M1082.5 102.5h71.3M1082.5 103.5h71.3M1082.5 104.5h71.3M1082.5 105.5h71.3M1082.5 106.5h71.3M1082.5 107.5h71.3M1082.5 108.5h71.3M1082.5 109.5h71.3M1082.5 110.5h71.3M1082.5 111.5h71.3M1082.5 112.5h71.3M1082.5 113.5h71.3M1082.5 114.5h71.3M1082.5 119.5h71.3M1082.5 124.5h71.3M1082.5 126.5h71.3M1082.5 127.5h71.3M1082.5 130.5h71.3M1082.5 131.5h71.3M1082.5 133.5h71.3M1082.5 142.5h71.3M1082.5 146.5h71.3M1082.5 147.5h71.3M1082.5 155.5h71.3"/><rect x="1082.5" y="97.0" width="71.3" height="440" fill="url(#hp2)" mask="url(#hp2m)"/></g><g mask="url(#hp2gm)"><rect x="1057.5" y="97.0" width="122.0" height="440" fill="#fff" filter="url(#hp2g)"/></g>
<path d="M852 105.3h37" stroke="#ffd0c8" stroke-opacity="0.75" stroke-width="1.2" fill="none"/>
<path d="M827.5 549.2V545.8H948.7V549.2M851.7 545.8V549.2M924.7 545.8V549.2" fill="none" stroke="#999" stroke-width="1"/>
<text x="810.9" y="571.7" text-anchor="middle" style="font-family:'DejaVu Sans','Liberation Sans',sans-serif;font-size:21.8px" fill="#000">−2K</text>
<text x="862.0" y="571.7" text-anchor="middle" style="font-family:'DejaVu Sans','Liberation Sans',sans-serif;font-size:21.8px" fill="#000">TSS</text>
<text x="911.0" y="571.7" text-anchor="middle" style="font-family:'DejaVu Sans','Liberation Sans',sans-serif;font-size:21.8px" fill="#000">TES</text>
<text x="948.3" y="571.7" text-anchor="middle" style="font-family:'DejaVu Sans','Liberation Sans',sans-serif;font-size:21.8px" fill="#000">2K</text>
<path d="M1058.7 549.2V545.8H1179.9V549.2M1082.9 545.8V549.2M1155.9 545.8V549.2" fill="none" stroke="#999" stroke-width="1"/>
<text x="1042.1" y="571.7" text-anchor="middle" style="font-family:'DejaVu Sans','Liberation Sans',sans-serif;font-size:21.8px" fill="#000">−2K</text>
<text x="1093.2" y="571.7" text-anchor="middle" style="font-family:'DejaVu Sans','Liberation Sans',sans-serif;font-size:21.8px" fill="#000">TSS</text>
<text x="1142.2" y="571.7" text-anchor="middle" style="font-family:'DejaVu Sans','Liberation Sans',sans-serif;font-size:21.8px" fill="#000">TES</text>
<text x="1179.5" y="571.7" text-anchor="middle" style="font-family:'DejaVu Sans','Liberation Sans',sans-serif;font-size:21.8px" fill="#000">2K</text>
</svg>
</body></html>
